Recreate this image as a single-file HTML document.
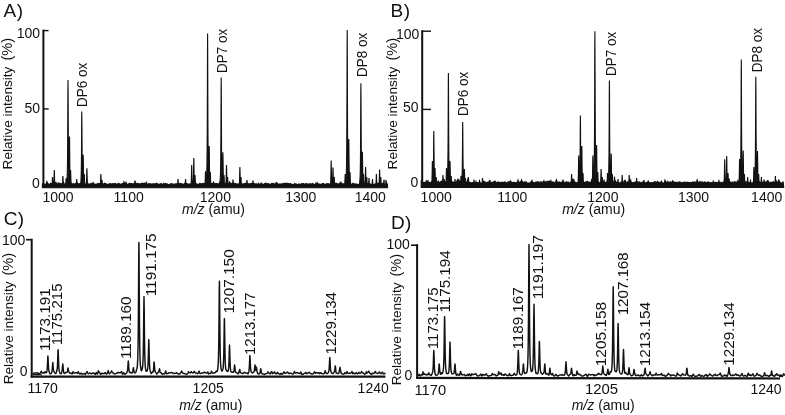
<!DOCTYPE html>
<html><head><meta charset="utf-8"><title>Mass spectra</title>
<style>
html,body{margin:0;padding:0;background:#fff;}
svg{display:block}
text{font-family:"Liberation Sans", Arial, sans-serif;fill:#111;}
</style></head><body>
<svg width="785" height="415" viewBox="0 0 785 415">
<rect width="785" height="415" fill="#fff"/>
<text transform="translate(12.2,169.4) rotate(-90)" font-size="13.6"><tspan x="0">Relative </tspan><tspan x="52.9">intensity </tspan><tspan x="108.8" font-size="14.6">(%)</tspan></text>
<text x="3.6" y="16.6" font-size="19" text-anchor="start" textLength="19.4" lengthAdjust="spacing">A)</text>
<text x="40.1" y="37.9" font-size="14.0" text-anchor="end">100</text>
<text x="40.1" y="112.5" font-size="14.0" text-anchor="end">50</text>
<text x="39.8" y="187.8" font-size="14.0" text-anchor="end">0</text>
<line x1="43.4" y1="29.6" x2="43.4" y2="187.8" stroke="#111" stroke-width="2"/>
<line x1="43.4" y1="30.6" x2="48.5" y2="30.6" stroke="#111" stroke-width="1.4"/>
<line x1="43.4" y1="108.9" x2="48.7" y2="108.9" stroke="#111" stroke-width="1.4"/>
<text x="42.5" y="201.6" font-size="14.0" text-anchor="start">1000</text>
<text x="113.6" y="201.6" font-size="14.0" text-anchor="start">1100</text>
<text x="199.8" y="201.6" font-size="14.0" text-anchor="start">1200</text>
<text x="285.2" y="201.6" font-size="14.0" text-anchor="start">1300</text>
<text x="354.7" y="201.6" font-size="14.0" text-anchor="start">1400</text>
<text x="182.0" y="214" font-size="14.0" text-anchor="start"><tspan font-style="italic">m/z</tspan> (amu)</text>
<text transform="translate(87.2,107) rotate(-90)" font-size="13.84" textLength="44.27" lengthAdjust="spacingAndGlyphs">DP6 ox</text>
<text transform="translate(227.1,73) rotate(-90)" font-size="13.84" textLength="44.27" lengthAdjust="spacingAndGlyphs">DP7 ox</text>
<text transform="translate(366.5,77) rotate(-90)" font-size="13.84" textLength="44.27" lengthAdjust="spacingAndGlyphs">DP8 ox</text>
<polygon points="42.4,187.8 42.4,183.6 42.6,183.4 43.0,183.6 43.2,183.8 43.4,183.9 43.7,184.1 44.0,184.4 44.4,184.1 44.6,183.9 44.8,183.8 45.0,184.0 45.2,184.2 45.4,184.4 46.0,184.6 46.3,184.1 46.4,183.7 46.5,183.3 46.6,182.8 46.7,182.4 46.8,181.9 46.9,181.5 47.0,181.7 47.1,182.0 47.2,182.3 47.3,182.5 47.4,182.8 47.5,183.0 47.6,183.3 47.9,183.5 48.2,183.7 48.4,183.9 48.6,184.2 48.8,184.4 49.0,184.7 49.6,184.6 49.8,184.4 49.9,184.2 50.0,184.1 50.1,183.9 50.2,183.7 50.3,183.5 50.4,183.3 50.6,183.5 50.8,183.7 51.0,183.9 51.6,184.0 52.2,182.8 52.3,180.7 52.4,178.3 52.5,177.1 52.6,178.3 52.7,180.7 52.8,182.8 52.9,184.0 53.4,183.8 53.6,183.6 53.8,183.3 53.9,182.0 54.0,179.6 54.1,176.1 54.2,172.1 54.3,170.1 54.4,172.1 54.5,176.1 54.6,179.6 54.7,182.0 54.8,183.6 54.9,183.8 55.1,184.0 55.3,184.2 55.4,184.0 55.5,183.8 55.6,183.5 55.7,183.3 55.8,183.1 55.9,182.8 56.0,182.6 56.1,182.8 56.2,183.0 56.3,183.2 56.4,183.4 56.5,183.7 56.6,183.9 56.7,184.1 57.4,184.1 57.5,184.0 57.6,183.8 57.7,183.6 57.8,183.5 57.9,183.3 58.0,183.1 58.1,183.0 58.4,183.1 58.7,183.3 59.4,183.2 59.6,183.4 59.7,183.6 59.8,183.8 59.9,184.0 60.0,184.2 60.1,184.4 60.2,184.6 60.3,184.4 60.4,184.3 60.5,184.1 60.6,184.0 60.7,183.8 60.8,183.7 60.9,183.5 61.1,183.8 61.3,184.1 61.5,184.4 61.8,184.2 61.9,184.0 62.0,183.8 62.1,183.6 62.2,183.4 62.3,183.3 62.4,183.4 62.5,183.6 62.6,182.4 62.7,180.1 62.8,177.4 62.9,176.1 63.0,177.4 63.1,180.1 63.2,182.4 63.3,183.8 63.4,183.5 63.5,183.3 63.6,183.0 63.7,182.8 63.8,183.0 63.9,183.3 64.0,183.5 64.1,183.7 64.2,184.0 64.3,184.2 64.4,184.4 64.7,184.3 65.0,184.1 65.3,183.9 65.6,183.7 65.8,183.3 65.9,181.4 66.0,179.3 66.1,178.2 66.2,179.3 66.3,181.4 66.4,183.3 66.5,183.7 66.7,183.0 66.8,182.2 66.9,181.2 67.0,180.0 67.1,178.3 67.2,176.0 67.3,172.9 67.4,168.5 67.5,162.1 67.6,152.3 67.7,137.6 67.8,116.4 67.9,92.2 68.0,80.0 68.1,92.2 68.2,116.4 68.3,137.6 68.4,152.3 68.5,162.1 68.6,168.5 68.7,172.9 68.8,176.0 68.9,178.3 69.0,175.5 69.1,170.9 69.2,163.9 69.3,153.8 69.4,142.2 69.5,136.4 69.6,142.2 69.7,153.8 69.8,163.9 69.9,170.9 70.0,175.5 70.1,178.6 70.2,180.7 70.3,179.5 70.4,176.0 70.5,172.0 70.6,170.0 70.7,172.0 70.8,176.0 70.9,179.5 71.0,181.9 71.1,183.4 71.4,183.2 71.5,183.4 71.6,183.5 71.7,183.7 71.8,183.8 71.9,184.0 72.0,184.2 72.1,184.3 72.7,184.2 73.0,183.9 73.2,183.7 73.4,183.4 73.7,183.6 73.9,183.9 74.1,184.2 74.7,184.2 75.0,184.0 75.2,183.8 75.4,183.5 75.6,183.3 75.8,183.4 76.0,183.6 76.2,183.8 76.5,182.0 76.6,180.0 76.7,179.0 76.8,180.0 76.9,182.0 77.0,183.7 77.1,184.3 77.2,184.1 77.3,184.0 77.4,183.8 77.5,183.6 77.6,183.5 77.7,183.3 77.9,183.6 78.1,183.9 78.3,184.2 78.7,184.0 78.9,183.8 79.1,183.6 79.3,183.8 79.5,184.1 79.7,184.3 80.0,184.1 80.2,183.8 80.4,183.5 80.7,183.2 80.8,182.2 80.9,181.1 81.0,179.5 81.1,177.3 81.2,174.1 81.3,169.6 81.4,162.7 81.5,152.2 81.6,137.2 81.7,120.0 81.8,111.4 81.9,120.0 82.0,137.2 82.1,152.2 82.2,162.7 82.3,169.6 82.4,174.1 82.5,177.3 82.6,179.5 82.7,179.9 82.8,176.9 82.9,172.4 83.0,165.9 83.1,158.5 83.2,154.8 83.3,158.5 83.4,165.9 83.5,172.4 83.6,176.9 83.7,179.9 83.8,181.9 83.9,183.2 84.0,181.4 84.1,178.7 84.2,175.6 84.3,174.0 84.4,175.6 84.5,178.7 84.6,181.4 84.7,183.3 84.8,184.5 85.4,184.6 85.6,184.4 85.8,184.2 86.0,184.0 86.4,183.1 86.5,181.4 86.6,178.7 86.7,174.8 86.8,170.4 86.9,168.2 87.0,170.4 87.1,174.8 87.2,178.7 87.3,181.4 87.4,183.1 87.5,183.3 87.6,183.5 87.7,183.7 87.8,183.9 87.9,184.1 88.0,184.3 88.1,184.5 88.2,184.7 88.4,184.4 88.6,184.1 88.8,183.8 89.4,184.0 89.7,184.2 90.0,184.4 90.3,184.5 90.4,184.3 90.5,184.2 90.6,184.0 90.7,183.9 90.8,183.7 90.9,183.5 91.0,183.4 91.3,183.5 91.6,183.7 92.2,183.8 92.6,183.5 92.7,183.3 92.8,183.1 92.9,183.0 93.0,182.8 93.1,182.6 93.3,182.9 93.5,183.2 93.7,183.5 93.9,183.8 94.1,184.1 94.3,184.4 94.5,184.7 94.7,184.5 94.9,184.3 95.1,184.1 95.7,184.2 96.1,184.3 96.4,184.5 96.8,184.3 97.0,184.0 97.2,183.7 97.9,183.6 98.6,183.5 98.9,183.7 99.1,183.9 99.3,184.1 99.7,183.8 99.9,183.6 100.1,183.3 100.3,183.6 100.5,183.3 100.6,181.4 100.7,178.7 100.8,175.6 100.9,174.0 101.0,175.6 101.1,178.7 101.2,181.4 101.3,183.3 101.4,183.5 101.8,182.6 101.9,180.9 102.0,180.0 102.1,180.9 102.2,182.6 102.3,183.8 102.9,183.8 103.1,184.0 103.3,184.3 103.5,184.5 103.8,184.2 103.9,184.0 104.0,183.8 104.1,183.6 104.2,183.4 104.3,183.2 104.6,183.4 104.9,183.6 105.6,183.6 106.0,183.8 106.3,184.0 106.6,184.2 106.8,184.3 107.0,184.5 107.7,184.6 108.0,184.5 108.2,184.3 108.4,184.1 108.7,183.9 109.1,183.7 109.7,183.7 110.4,183.7 111.1,183.7 111.5,183.9 111.7,184.1 111.9,184.3 112.3,184.1 112.5,183.9 112.7,183.7 113.1,183.5 113.7,183.5 114.1,183.7 114.4,183.9 114.7,184.0 115.0,183.8 115.2,183.6 115.4,183.4 115.8,183.7 116.0,183.9 116.2,184.1 116.9,184.2 117.3,184.1 117.7,183.9 117.9,183.7 118.1,183.6 118.3,183.4 118.9,183.3 119.2,183.6 119.3,183.8 119.4,183.9 119.5,184.1 119.6,184.3 119.7,184.4 120.4,184.3 121.0,184.1 121.7,184.0 122.0,183.8 122.3,183.6 122.9,183.7 123.2,184.0 123.3,183.6 123.4,183.3 123.5,183.0 123.6,182.7 123.7,182.4 123.8,182.1 123.9,181.8 124.0,182.1 124.1,182.4 124.2,182.7 124.3,183.0 124.4,183.3 124.5,183.6 124.6,183.8 124.8,183.7 125.0,183.5 125.2,183.3 125.4,183.1 125.6,182.8 125.8,182.5 126.0,182.2 126.1,182.5 126.2,182.8 126.3,183.1 126.4,183.4 126.5,183.7 126.6,184.0 126.7,184.3 127.1,184.5 127.7,184.4 127.9,184.2 128.1,184.0 128.5,183.9 128.9,183.7 129.2,183.5 129.5,183.3 129.6,183.4 129.7,183.6 129.8,183.8 129.9,183.9 130.0,184.1 130.1,184.2 130.2,184.4 130.4,184.1 130.6,183.8 130.8,183.5 131.5,183.6 131.8,183.8 132.0,184.0 132.2,184.2 132.6,184.0 132.8,183.8 133.0,183.7 133.7,183.8 134.1,184.0 134.5,183.7 134.6,183.3 134.7,182.9 134.8,181.3 134.9,180.5 135.0,181.3 135.2,181.6 135.3,182.0 135.4,182.3 135.5,182.6 135.6,183.0 135.7,183.3 135.8,183.6 136.1,183.8 136.4,184.0 136.8,183.7 137.0,183.5 137.2,183.3 137.5,183.6 137.8,183.8 138.4,183.6 139.0,183.8 139.3,184.0 139.6,184.2 139.9,184.3 140.2,184.1 140.4,183.9 140.6,183.6 141.3,183.6 141.9,183.4 142.6,183.3 143.3,183.4 144.0,183.4 144.7,183.2 145.1,183.4 145.3,183.6 145.5,183.8 145.8,183.4 145.9,183.2 146.0,182.9 146.1,182.7 146.2,182.4 146.3,182.2 146.4,182.5 146.5,182.9 146.6,183.2 146.7,183.6 146.8,183.9 146.9,184.3 147.0,184.6 147.7,184.4 147.9,184.2 148.1,183.9 148.3,183.6 148.7,183.9 148.9,184.2 149.1,184.5 149.3,184.2 149.5,184.0 149.7,183.7 150.3,183.7 150.9,183.8 151.3,184.0 151.5,184.2 151.7,184.4 151.9,184.6 152.1,184.4 152.3,184.2 152.5,184.0 152.8,183.8 153.2,183.7 153.8,183.8 154.5,183.9 155.2,184.1 155.7,183.8 155.9,183.6 156.1,183.3 156.8,183.4 157.1,183.6 157.4,183.8 157.7,184.1 158.0,184.3 158.7,184.1 159.2,184.3 159.4,184.5 159.6,184.7 159.8,184.4 160.0,184.2 160.2,184.0 160.4,183.9 160.7,183.7 161.0,183.5 161.3,183.7 161.6,183.9 161.8,184.1 162.0,184.2 162.2,184.4 162.4,184.6 162.7,184.4 163.0,184.2 163.2,184.0 163.4,183.8 163.6,183.5 163.8,183.3 164.0,183.5 164.2,183.7 164.4,183.9 165.1,184.0 165.4,183.8 165.6,183.6 165.8,183.4 166.2,183.7 166.4,184.0 166.6,184.2 166.9,184.0 167.2,183.8 167.6,184.1 167.8,184.3 168.0,184.5 168.7,184.7 169.1,184.5 169.5,184.3 170.2,184.2 170.5,184.0 170.8,183.8 171.5,183.6 171.9,183.8 172.3,184.0 172.6,184.2 172.9,184.4 173.2,184.2 173.5,184.1 174.2,184.1 174.6,184.2 174.9,184.4 175.3,184.2 175.5,184.0 175.7,183.8 176.3,183.9 177.0,183.8 177.4,184.0 177.6,184.2 177.7,183.7 177.8,182.0 177.9,180.1 178.0,179.1 178.1,180.1 178.2,182.0 178.3,183.7 178.5,183.5 178.7,183.7 178.9,183.9 179.1,184.1 179.4,184.0 179.6,183.7 179.8,183.4 180.1,183.3 180.8,183.6 180.9,183.8 181.0,183.9 181.1,184.1 181.2,184.3 181.3,184.5 181.5,184.2 181.7,184.0 181.9,183.7 182.3,184.0 182.5,184.3 182.7,184.6 183.0,184.3 183.3,184.1 183.8,184.3 184.1,184.5 184.2,184.3 184.3,184.1 184.4,184.0 184.5,183.8 184.6,183.6 184.7,183.4 184.8,183.2 185.1,183.4 185.4,182.0 185.5,180.0 185.6,179.0 185.7,180.0 185.8,182.0 185.9,183.4 186.2,183.2 186.4,183.4 186.6,183.6 186.8,183.8 187.5,183.9 188.1,184.1 188.5,184.3 188.8,184.5 189.3,184.3 189.5,184.1 189.7,183.9 189.9,184.1 190.1,184.2 190.3,184.4 191.0,184.4 191.1,183.7 191.2,182.4 191.3,180.3 191.4,177.2 191.5,172.7 191.6,167.6 191.7,165.0 191.8,167.6 191.9,172.7 192.0,177.2 192.1,180.3 192.2,182.4 192.3,182.7 192.5,182.5 192.6,182.7 192.7,182.9 192.8,183.1 192.9,183.3 193.0,183.6 193.2,182.5 193.3,180.7 193.4,178.0 193.5,173.9 193.6,168.1 193.7,161.4 193.8,158.0 193.9,161.4 194.0,168.1 194.1,173.9 194.2,178.0 194.3,180.7 194.4,182.5 194.5,183.7 194.7,181.8 194.8,179.3 194.9,176.4 195.0,175.0 195.1,176.4 195.2,179.3 195.3,181.8 195.4,182.4 195.5,182.6 195.6,182.8 195.7,182.9 195.8,183.1 195.9,183.3 196.0,183.4 196.2,183.6 196.4,183.8 196.6,183.9 197.3,184.1 197.7,184.2 198.0,184.4 198.5,184.6 199.0,184.3 199.1,184.2 199.2,184.0 199.3,183.8 199.4,183.7 199.5,183.5 200.2,183.4 200.4,183.6 200.6,183.8 200.8,184.0 201.5,184.0 201.8,183.8 202.1,183.6 202.4,183.5 203.1,183.4 203.7,183.5 203.9,183.7 204.1,183.9 204.3,184.0 204.7,183.8 204.9,183.6 205.1,182.4 205.2,180.2 205.3,176.9 205.4,173.3 205.5,171.4 205.6,173.3 205.7,176.9 205.8,180.2 205.9,182.4 206.0,183.2 206.1,182.6 206.2,181.9 206.3,181.0 206.4,179.8 206.5,178.4 206.6,176.6 206.7,174.2 206.8,171.0 206.9,166.5 207.0,160.2 207.1,151.0 207.2,137.1 207.3,116.0 207.4,85.7 207.5,51.0 207.6,33.6 207.7,51.0 207.8,85.7 207.9,116.0 208.0,137.1 208.1,151.0 208.2,160.2 208.3,166.5 208.4,171.0 208.5,174.2 208.6,176.6 208.7,177.8 208.8,174.1 208.9,168.3 209.0,160.1 209.1,150.7 209.2,146.0 209.3,150.7 209.4,160.1 209.5,168.3 209.6,174.1 209.7,177.8 209.8,180.3 209.9,182.0 210.0,180.4 210.1,177.3 210.2,173.8 210.3,172.0 210.4,173.8 210.5,177.3 210.6,180.4 210.7,182.6 210.8,183.7 211.4,183.9 211.6,183.7 211.8,183.5 212.0,183.3 212.5,183.5 212.8,183.6 212.9,183.4 213.0,183.1 213.1,182.9 213.2,182.6 213.3,182.4 213.4,182.1 213.5,181.9 213.6,182.1 213.7,182.4 213.8,182.6 213.9,182.9 214.0,183.1 214.1,183.3 214.2,183.6 214.8,183.7 215.5,183.6 216.0,183.4 216.6,183.6 216.8,183.8 217.0,183.9 217.7,183.8 218.3,183.8 218.6,184.0 218.8,184.2 219.0,184.5 219.2,184.1 219.3,183.7 219.4,183.3 219.5,182.8 219.6,182.4 219.7,182.0 219.8,181.5 219.9,181.9 220.0,182.1 220.1,181.1 220.2,179.8 220.3,178.1 220.4,175.8 220.5,172.6 220.6,168.1 220.7,161.5 220.8,151.5 220.9,136.4 221.0,114.8 221.1,90.0 221.2,77.5 221.3,90.0 221.4,114.8 221.5,136.4 221.6,151.5 221.7,161.5 221.8,168.1 221.9,172.6 222.0,175.8 222.1,178.1 222.2,179.8 222.3,181.1 222.4,179.3 222.5,176.1 222.6,171.3 222.7,164.3 222.8,156.3 222.9,152.3 223.0,156.3 223.1,164.3 223.2,171.3 223.3,176.1 223.4,179.3 223.5,181.5 223.6,182.9 223.7,181.8 223.8,179.3 223.9,176.4 224.0,175.0 224.1,176.4 224.2,179.3 224.3,181.8 224.4,183.6 224.5,184.0 224.8,183.8 225.3,183.7 225.6,183.9 225.7,184.1 225.8,184.2 225.9,183.7 226.0,182.4 226.1,180.3 226.2,177.2 226.3,172.7 226.4,167.6 226.5,165.0 226.6,167.6 226.7,172.7 226.8,177.2 226.9,180.3 227.0,182.4 227.1,183.7 227.2,184.0 227.3,182.8 227.4,180.6 227.5,178.2 227.6,177.0 227.7,178.2 227.8,180.6 227.9,182.8 228.0,183.4 228.4,183.7 228.5,183.9 228.6,184.1 228.7,184.3 228.8,184.4 228.9,184.6 229.0,184.1 229.1,183.7 229.2,183.2 229.3,182.7 229.4,182.2 229.5,181.8 229.6,181.3 229.7,181.7 229.8,182.1 229.9,182.5 230.0,182.9 230.1,183.3 230.2,183.7 230.3,184.1 230.5,183.8 230.7,183.6 230.9,183.4 231.3,183.5 231.5,183.7 231.7,183.9 232.1,183.7 232.5,183.6 232.8,182.3 232.9,180.4 233.0,179.5 233.1,180.4 233.2,182.3 233.3,183.4 233.5,183.6 233.7,183.7 234.3,183.8 234.7,183.6 234.9,183.5 235.1,183.3 235.4,183.6 235.5,183.8 235.6,184.0 235.7,184.1 235.8,184.3 235.9,184.5 236.1,184.3 236.3,184.0 236.5,183.8 237.0,184.0 237.2,184.2 237.8,184.1 238.4,184.0 238.8,183.8 239.0,183.6 239.2,183.5 239.4,182.8 239.5,181.0 239.6,178.1 239.7,174.0 239.8,169.4 239.9,167.0 240.0,169.4 240.1,174.0 240.2,178.1 240.3,181.0 240.4,182.8 240.5,183.8 240.7,182.8 240.8,180.6 240.9,178.2 241.0,177.0 241.1,178.2 241.2,180.6 241.3,182.8 241.4,183.7 241.7,183.9 241.9,184.1 242.1,184.2 242.6,184.0 242.9,183.9 243.6,183.8 243.8,183.9 244.0,184.1 244.2,184.3 244.5,184.1 244.6,183.9 244.7,183.7 244.8,183.6 244.9,183.4 245.0,183.2 245.7,183.2 245.9,183.5 246.1,183.8 246.3,184.1 246.8,182.6 246.9,180.9 247.0,180.0 247.1,180.9 247.2,182.6 247.3,183.7 248.0,183.7 248.7,183.7 249.3,183.8 249.8,183.9 250.4,184.1 250.8,183.9 251.0,183.6 251.2,183.3 251.8,183.4 252.5,183.5 252.8,183.0 252.9,181.3 253.0,180.5 253.1,181.3 253.2,183.0 253.3,184.0 253.7,183.8 253.9,183.7 254.1,183.5 254.6,183.7 255.0,183.9 255.3,184.1 255.9,183.9 256.1,183.7 256.6,183.9 256.9,184.1 257.2,184.3 257.5,184.5 257.8,184.2 257.9,184.0 258.0,183.9 258.1,183.7 258.2,183.5 258.3,183.3 258.5,183.5 258.7,183.7 258.9,183.9 259.2,184.1 259.6,184.2 260.0,184.4 260.4,184.6 260.5,184.4 260.6,184.1 260.7,183.9 260.8,183.7 260.9,183.5 261.0,183.3 261.1,183.0 261.3,183.2 261.5,183.4 261.7,183.5 261.9,183.7 262.1,183.9 262.3,184.1 262.5,184.3 263.1,184.2 263.8,184.2 264.2,183.9 264.5,183.7 264.8,183.5 265.2,183.4 265.8,183.3 266.5,183.4 266.8,183.6 267.0,183.8 267.2,184.0 267.4,184.2 267.6,184.0 267.8,183.7 268.0,183.4 268.3,183.6 268.5,183.9 268.7,184.2 269.3,184.2 270.0,184.1 270.6,184.3 271.2,184.0 271.4,183.8 271.6,183.5 272.3,183.4 272.5,183.7 272.7,184.0 272.9,184.3 273.2,184.1 273.3,184.0 273.4,183.8 273.5,183.7 273.6,183.5 273.7,183.4 273.8,183.6 273.9,183.7 274.0,183.9 274.1,184.1 274.2,184.3 274.3,184.5 274.4,184.7 274.6,184.4 274.8,184.2 275.0,184.0 275.2,183.8 275.4,183.6 275.6,183.4 275.8,183.3 276.0,183.0 276.2,182.7 276.4,182.4 276.7,182.6 276.9,182.9 277.1,183.2 277.3,183.4 277.8,183.6 278.0,183.7 278.2,184.0 278.4,184.3 278.6,184.6 279.3,184.5 279.5,184.3 279.7,184.1 279.9,183.8 280.3,184.0 280.5,184.2 280.7,184.4 281.0,184.2 281.3,184.0 282.0,184.1 282.3,183.9 282.5,183.6 282.7,183.4 283.1,183.6 283.3,183.8 283.5,184.0 283.9,183.8 284.3,183.6 284.7,183.4 285.3,183.4 286.0,183.4 286.6,183.4 287.3,183.4 288.0,183.5 288.2,183.7 288.4,183.9 288.7,183.7 289.0,183.6 289.4,183.7 289.6,183.9 289.8,184.1 290.1,183.9 290.4,183.7 290.8,183.8 291.0,184.0 291.2,184.1 291.7,184.3 292.3,184.3 293.0,184.5 293.6,184.6 294.1,184.4 294.3,184.1 294.5,183.8 294.7,183.5 294.8,183.7 294.9,183.8 295.0,184.0 295.1,184.1 295.2,184.3 295.3,184.5 295.4,184.6 295.6,184.4 295.8,184.2 296.0,183.9 296.4,184.2 296.6,184.4 296.8,184.6 297.3,184.5 298.0,184.4 298.4,184.2 298.6,184.0 298.8,183.9 299.2,184.1 299.4,184.2 299.6,184.4 300.3,184.4 300.9,184.3 301.2,184.0 301.4,183.8 301.6,183.6 302.0,183.8 302.2,184.1 302.4,184.3 302.6,184.0 302.8,183.7 303.0,183.5 303.5,183.6 303.7,183.8 304.3,183.9 304.7,184.2 304.9,184.3 305.1,184.5 305.4,184.3 305.5,184.1 305.6,184.0 305.7,183.8 305.8,183.7 305.9,183.5 306.2,183.7 306.5,183.8 306.8,184.0 307.1,184.2 307.7,184.0 307.9,183.8 308.2,184.0 308.4,184.3 308.6,184.5 309.1,184.4 309.3,184.2 309.5,184.1 309.8,183.8 310.1,183.6 310.3,183.9 310.5,184.1 310.7,184.3 311.3,184.3 311.6,184.1 311.8,183.9 312.0,183.6 312.2,183.4 312.6,183.6 313.0,183.8 313.2,184.0 313.4,184.1 313.6,184.3 314.3,184.5 314.8,184.6 315.2,184.3 315.3,184.2 315.4,184.0 315.5,183.8 315.6,183.6 315.7,183.4 315.8,183.6 315.9,183.8 316.0,183.9 316.1,184.1 316.2,184.2 316.3,184.4 316.4,184.6 316.5,184.3 316.6,184.0 316.7,183.7 316.8,183.4 316.9,183.1 317.0,182.9 317.1,182.6 317.2,182.8 317.3,183.0 317.4,183.2 317.5,183.4 317.6,183.6 317.7,183.8 317.8,184.0 318.4,183.8 318.8,184.0 319.1,184.2 319.8,184.1 320.2,184.3 320.5,184.5 321.1,184.4 321.5,184.3 321.8,184.0 322.1,183.8 322.4,183.6 322.7,183.5 323.3,183.5 323.7,183.7 324.0,183.9 324.5,184.1 325.0,184.3 325.3,184.4 325.9,184.2 326.1,184.1 326.3,183.9 326.5,183.8 326.7,183.6 326.9,183.5 327.0,183.6 327.1,183.8 327.2,184.0 327.3,184.2 327.4,184.3 327.5,184.5 327.6,184.7 327.8,184.4 328.0,184.1 328.2,183.8 328.8,183.8 329.1,184.0 329.3,184.2 329.5,184.4 329.7,184.7 329.8,184.5 329.9,184.3 330.0,184.2 330.1,184.0 330.2,183.8 330.3,183.7 330.4,183.5 330.6,182.9 330.7,181.3 330.8,178.9 330.9,175.1 331.0,169.8 331.1,163.7 331.2,160.6 331.3,163.7 331.4,169.8 331.5,175.1 331.6,178.9 331.7,181.3 331.8,182.9 331.9,184.0 332.2,184.2 332.5,183.0 332.6,181.2 332.7,178.4 332.8,174.4 332.9,169.9 333.0,167.6 333.1,169.9 333.2,174.4 333.3,178.4 333.4,181.2 333.5,183.0 333.6,184.2 333.9,182.8 334.0,180.6 334.1,178.2 334.2,177.0 334.3,178.2 334.4,180.6 334.5,182.8 334.6,183.6 335.0,183.4 335.6,183.4 336.0,183.6 336.3,183.4 336.6,183.2 336.9,183.6 337.0,183.8 337.1,184.0 337.2,184.2 337.3,184.4 337.4,184.6 337.6,184.3 337.8,184.0 338.0,183.8 338.6,184.0 339.1,183.8 339.3,183.5 339.5,183.3 339.6,183.5 339.7,183.6 339.8,183.8 339.9,184.0 340.0,184.1 340.1,184.3 340.2,184.5 340.3,184.1 340.4,183.8 340.5,183.4 340.6,183.1 340.7,182.8 340.8,182.4 340.9,182.1 341.0,182.3 341.1,182.6 341.2,182.9 341.3,183.2 341.4,183.5 341.5,183.8 341.6,184.1 342.0,183.9 342.4,183.7 342.9,183.5 343.2,183.7 343.4,183.9 343.6,184.1 343.8,184.3 344.1,184.5 344.4,184.7 344.6,184.4 344.8,183.3 344.9,181.4 345.0,178.7 345.1,175.6 345.2,174.0 345.3,175.6 345.4,178.7 345.5,181.4 345.6,183.1 345.7,182.5 345.8,181.7 345.9,180.8 346.0,179.7 346.1,178.2 346.2,176.3 346.3,173.9 346.4,170.6 346.5,166.0 346.6,159.6 346.7,150.1 346.8,135.9 346.9,114.3 347.0,83.3 347.1,47.9 347.2,30.0 347.3,47.9 347.4,83.3 347.5,114.3 347.6,135.9 347.7,150.1 347.8,159.6 347.9,166.0 348.0,170.6 348.1,173.9 348.2,176.3 348.3,176.1 348.4,171.8 348.5,165.1 348.6,155.5 348.7,144.5 348.8,139.0 348.9,144.5 349.0,155.5 349.1,165.1 349.2,171.8 349.3,176.1 349.4,179.1 349.5,181.1 349.6,182.5 349.7,180.4 349.8,177.3 349.9,173.8 350.0,172.0 350.1,173.8 350.2,177.3 350.3,180.4 350.4,182.6 350.5,183.7 350.6,183.5 350.7,183.3 350.9,183.6 351.1,183.8 351.3,184.1 351.5,184.2 351.9,184.4 352.3,184.1 352.4,183.9 352.5,183.8 352.6,183.6 352.7,183.4 352.8,183.2 353.1,183.4 353.4,183.6 353.6,183.7 353.8,184.0 354.0,184.2 354.2,184.4 354.4,184.2 354.6,184.0 354.8,183.9 355.2,184.1 355.4,184.3 355.6,184.6 355.8,184.4 356.0,184.2 356.2,183.9 356.8,184.1 357.5,184.2 358.1,184.4 358.4,184.5 359.0,184.5 359.3,184.3 359.5,183.8 359.6,183.2 359.7,182.4 359.8,181.4 359.9,180.2 360.0,178.6 360.1,176.4 360.2,173.4 360.3,169.1 360.4,162.8 360.5,153.4 360.6,139.1 360.7,118.5 360.8,95.0 360.9,83.2 361.0,95.0 361.1,118.5 361.2,139.1 361.3,153.4 361.4,162.8 361.5,169.1 361.6,173.4 361.7,176.4 361.8,178.6 361.9,179.2 362.0,175.9 362.1,171.0 362.2,163.9 362.3,155.8 362.4,151.7 362.5,155.8 362.6,163.9 362.7,171.0 362.8,175.9 362.9,179.2 363.0,181.3 363.1,182.8 363.2,181.4 363.3,178.7 363.4,175.6 363.5,174.0 363.6,175.6 363.7,178.7 363.8,181.4 363.9,183.3 364.0,184.3 364.2,184.1 364.4,183.8 364.6,183.6 365.1,182.8 365.2,181.0 365.3,178.1 365.4,174.0 365.5,169.4 365.6,167.0 365.7,169.4 365.8,174.0 365.9,178.1 366.0,181.0 366.1,182.8 366.2,184.1 366.5,182.8 366.6,180.6 366.7,178.2 366.8,177.0 366.9,178.2 367.0,180.6 367.1,182.8 367.2,183.8 367.4,184.1 367.9,183.9 368.1,183.7 368.7,183.2 368.8,181.3 368.9,179.1 369.0,178.0 369.1,179.1 369.2,181.3 369.3,183.2 369.4,184.4 369.6,184.7 369.8,184.5 370.0,184.3 370.2,184.1 370.8,184.1 371.3,184.3 371.7,184.4 372.2,183.7 372.3,182.0 372.4,180.0 372.5,179.0 372.6,180.0 372.7,182.0 372.8,183.7 372.9,184.2 373.4,184.4 373.7,184.6 374.3,184.5 374.7,184.3 374.9,184.1 375.1,183.9 375.8,184.0 376.0,183.3 376.1,181.4 376.2,178.7 376.3,175.6 376.4,174.0 376.5,175.6 376.6,178.7 376.7,181.4 376.8,183.3 376.9,183.6 377.5,183.5 377.8,183.3 378.5,183.4 378.8,183.5 379.0,183.7 379.1,183.4 379.2,181.8 379.3,179.3 379.4,175.7 379.5,171.6 379.6,169.5 379.7,171.6 379.8,175.7 379.9,179.3 380.0,181.8 380.1,183.3 380.3,183.5 380.5,182.8 380.6,180.6 380.7,178.2 380.8,177.0 380.9,178.2 381.0,180.6 381.1,182.8 381.2,183.6 381.4,183.4 381.7,183.7 381.8,183.9 381.9,184.1 382.0,184.3 382.1,184.4 382.2,184.6 382.3,184.4 382.4,184.3 382.5,184.1 382.6,183.9 382.7,183.7 382.8,183.5 382.9,183.3 383.2,183.5 383.5,183.7 383.8,182.3 383.9,180.4 384.0,179.5 384.1,180.4 384.2,182.3 384.3,183.9 384.4,184.3 384.7,184.4 385.0,184.6 385.2,184.4 385.4,184.3 385.6,184.1 385.8,182.6 385.9,180.9 386.0,180.0 386.1,180.9 386.2,182.6 386.6,183.0 386.7,183.1 386.8,183.3 386.9,183.5 387.0,183.7 387.1,183.9 387.5,184.1 387.5,187.8" fill="#111" stroke="#111" stroke-width="1.1" stroke-linejoin="miter"/>
<text transform="translate(397.0,169.4) rotate(-90)" font-size="13.6"><tspan x="0">Relative </tspan><tspan x="52.9">intensity </tspan><tspan x="108.8" font-size="14.6">(%)</tspan></text>
<text x="390.6" y="16.6" font-size="19" text-anchor="start" textLength="19.4" lengthAdjust="spacing">B)</text>
<text x="419.4" y="38.6" font-size="14.0" text-anchor="end">100</text>
<text x="418.6" y="111.9" font-size="14.0" text-anchor="end">50</text>
<text x="418.2" y="186.9" font-size="14.0" text-anchor="end">0</text>
<line x1="422.2" y1="30.2" x2="422.2" y2="187.4" stroke="#111" stroke-width="2"/>
<line x1="422.2" y1="31.2" x2="431" y2="31.2" stroke="#111" stroke-width="1.4"/>
<line x1="422.2" y1="109.4" x2="431" y2="109.4" stroke="#111" stroke-width="1.4"/>
<text x="420.6" y="201.5" font-size="14.0" text-anchor="start">1000</text>
<text x="497.3" y="201.5" font-size="14.0" text-anchor="start">1100</text>
<text x="587.3" y="201.5" font-size="14.0" text-anchor="start">1200</text>
<text x="678.0" y="201.5" font-size="14.0" text-anchor="start">1300</text>
<text x="751.1" y="201.5" font-size="14.0" text-anchor="start">1400</text>
<text x="562.2" y="214" font-size="14.0" text-anchor="start"><tspan font-style="italic">m/z</tspan> (amu)</text>
<text transform="translate(468.4,116) rotate(-90)" font-size="13.84" textLength="44.27" lengthAdjust="spacingAndGlyphs">DP6 ox</text>
<text transform="translate(616.2,76) rotate(-90)" font-size="13.84" textLength="44.27" lengthAdjust="spacingAndGlyphs">DP7 ox</text>
<text transform="translate(762.0,72.2) rotate(-90)" font-size="13.84" textLength="44.27" lengthAdjust="spacingAndGlyphs">DP8 ox</text>
<polygon points="421.2,187.4 421.2,180.9 421.3,180.7 421.4,180.6 421.5,180.8 421.6,181.1 421.7,181.4 421.8,181.7 421.9,182.0 422.0,182.3 422.1,182.6 422.4,182.8 422.7,182.9 423.2,182.7 423.5,182.5 424.1,182.4 424.7,182.2 425.3,182.3 425.8,182.0 425.9,181.8 426.0,181.6 426.1,181.4 426.2,181.2 426.3,180.9 426.4,181.1 426.5,181.3 426.6,181.5 426.7,181.7 426.8,181.9 426.9,182.1 427.0,182.3 427.6,182.3 427.9,180.8 428.0,180.0 428.1,180.8 428.2,182.5 428.4,182.7 429.0,182.6 429.4,182.5 429.7,182.3 430.0,182.5 430.2,182.7 430.4,182.9 430.8,182.7 431.0,182.4 431.2,182.1 431.5,182.3 431.8,182.5 431.9,181.1 432.0,178.7 432.1,175.1 432.2,169.9 432.3,164.0 432.4,161.0 432.5,164.0 432.6,169.9 432.7,175.1 432.8,178.7 432.9,181.1 433.1,179.6 433.2,177.3 433.3,173.9 433.4,168.9 433.5,161.1 433.6,150.1 433.7,137.4 433.8,131.0 433.9,137.4 434.0,150.1 434.1,161.1 434.2,168.9 434.3,173.9 434.4,177.3 434.5,179.6 434.6,181.0 434.7,178.4 434.8,174.6 434.9,170.2 435.0,168.0 435.1,170.2 435.2,174.6 435.3,178.4 435.4,181.0 435.5,182.4 435.8,182.5 436.0,180.5 436.1,178.2 436.2,177.0 436.3,178.2 436.4,180.5 436.5,182.6 436.6,182.7 437.0,182.6 437.2,182.3 437.4,182.1 437.6,181.9 437.8,181.6 438.0,181.4 438.2,181.1 438.3,181.2 438.4,181.4 438.5,181.5 438.6,181.7 438.7,181.8 438.8,182.0 438.9,182.1 439.1,182.3 439.3,182.5 439.5,182.7 439.8,182.6 440.0,182.3 440.2,182.0 440.4,181.8 441.0,181.8 441.2,181.5 441.4,181.2 441.6,181.0 441.8,181.2 441.9,181.5 442.0,181.8 442.1,182.2 442.2,182.5 442.3,182.8 442.4,183.2 442.6,182.9 442.7,181.6 442.8,179.2 442.9,176.4 443.0,175.0 443.1,176.4 443.2,179.2 443.3,181.6 443.4,182.1 444.0,181.8 444.1,180.0 444.2,179.0 444.3,180.0 444.4,181.8 444.5,182.4 444.9,182.2 445.3,182.0 445.7,181.8 446.1,181.0 446.2,178.4 446.3,174.6 446.4,170.2 446.5,168.0 446.6,170.2 446.7,174.6 446.8,178.4 446.9,181.0 447.0,182.5 447.2,181.5 447.3,180.4 447.4,179.1 447.5,177.3 447.6,174.9 447.7,171.6 447.8,166.9 447.9,160.1 448.0,149.8 448.1,134.1 448.2,111.6 448.3,85.9 448.4,73.0 448.5,85.9 448.6,111.6 448.7,134.1 448.8,149.8 448.9,160.1 449.0,166.9 449.1,171.6 449.2,174.9 449.3,177.3 449.4,179.1 449.5,180.4 449.6,178.7 449.7,175.1 449.8,169.9 449.9,164.0 450.0,161.0 450.1,164.0 450.2,169.9 450.3,175.1 450.4,178.7 450.5,181.1 450.6,182.4 450.8,182.6 450.9,182.1 451.0,179.9 451.1,177.3 451.2,176.0 451.3,177.3 451.4,179.9 451.5,182.1 451.6,182.4 451.8,182.2 452.0,182.1 452.2,181.9 452.8,181.9 453.1,182.1 453.3,182.3 453.5,182.5 453.9,182.3 454.1,182.1 454.3,182.0 454.5,182.2 454.7,182.5 454.8,181.8 454.9,180.0 455.0,179.0 455.1,180.0 455.2,181.8 455.3,182.7 455.8,182.6 456.3,182.4 456.5,182.1 456.6,181.9 456.7,181.6 456.8,181.3 456.9,181.1 457.0,180.8 457.1,180.6 457.2,180.9 457.3,181.2 457.4,181.5 457.5,181.8 457.6,182.1 457.7,182.4 457.8,181.5 457.9,179.5 458.0,178.5 458.1,179.5 458.2,181.5 458.3,182.2 458.5,181.9 458.6,181.7 458.7,181.5 458.8,181.3 458.9,181.1 459.0,180.9 459.1,180.7 459.2,180.5 459.3,180.8 459.4,181.1 459.5,181.3 459.6,181.6 459.7,181.9 459.8,182.1 459.9,182.4 460.5,182.4 460.7,182.0 460.8,179.7 460.9,177.0 461.0,175.7 461.1,177.0 461.2,179.7 461.3,182.0 461.4,182.6 461.6,182.8 461.7,182.6 461.8,181.6 461.9,180.3 462.0,178.4 462.1,175.7 462.2,171.8 462.3,165.9 462.4,157.0 462.5,144.1 462.6,129.4 462.7,122.0 462.8,129.4 462.9,144.1 463.0,157.0 463.1,165.9 463.2,171.8 463.3,175.7 463.4,178.4 463.5,180.3 463.6,181.6 463.7,182.6 463.8,182.9 464.0,181.3 464.1,178.8 464.2,175.2 464.3,171.1 464.4,169.0 464.5,171.1 464.6,175.2 464.7,178.8 464.8,181.0 464.9,181.2 465.0,181.4 465.1,181.6 465.2,181.9 465.3,181.2 465.4,179.1 465.5,178.0 465.6,179.1 465.7,181.2 465.8,182.4 466.5,182.4 467.0,182.1 467.1,181.7 467.2,181.3 467.3,181.0 467.4,180.6 467.5,180.3 467.6,179.9 467.7,180.2 467.8,180.5 467.9,180.8 468.0,181.1 468.1,181.3 468.2,180.5 468.3,178.2 468.4,177.0 468.5,178.2 468.6,180.5 468.7,182.0 469.3,182.1 469.8,182.4 470.1,182.5 470.4,182.7 471.0,182.7 471.6,182.7 472.3,182.6 473.0,182.5 473.6,182.7 473.8,182.2 473.9,180.4 474.0,179.5 474.1,180.4 474.2,182.2 474.3,183.0 475.0,182.9 475.4,182.6 475.5,182.4 475.6,182.2 475.7,182.0 475.8,181.8 475.9,181.6 476.0,181.4 476.1,181.7 476.2,181.9 476.3,182.1 476.4,182.3 476.5,182.6 476.6,182.8 476.7,183.0 477.0,182.8 477.3,182.6 478.0,182.8 478.6,182.8 478.9,182.5 479.0,182.2 479.1,181.8 479.2,181.5 479.3,181.1 479.4,180.8 479.5,180.5 479.6,180.8 479.7,181.1 479.8,181.5 479.9,181.8 480.0,182.1 480.1,182.5 480.2,182.8 480.8,183.0 481.5,183.1 481.9,182.9 482.2,182.7 482.3,181.2 482.4,179.1 482.5,178.0 482.6,179.1 482.7,181.2 482.9,181.0 483.0,180.7 483.1,181.0 483.2,181.2 483.3,181.4 483.4,181.6 483.5,181.8 483.6,182.0 483.7,182.2 484.0,182.0 484.3,181.8 484.8,181.6 485.3,182.0 485.4,182.2 485.5,182.4 485.6,182.6 485.7,182.8 485.8,183.0 486.1,182.8 486.4,182.6 486.9,182.4 487.4,182.2 487.7,182.1 488.3,182.2 488.8,182.0 488.9,181.8 489.0,181.6 489.1,181.5 489.2,181.3 489.3,181.1 489.4,181.4 489.5,181.6 489.6,181.9 489.7,182.1 489.8,182.4 489.9,180.8 490.0,180.0 490.1,180.8 490.2,182.5 490.3,182.8 490.9,182.6 491.3,182.4 492.0,182.5 492.5,182.4 492.9,182.2 493.2,182.0 493.5,181.8 494.1,181.9 494.4,181.6 494.6,181.3 494.8,181.0 495.1,181.2 495.2,181.4 495.3,181.5 495.4,181.7 495.5,181.9 495.6,182.0 495.7,182.2 495.8,182.4 495.9,182.5 496.0,182.7 496.1,182.8 496.2,183.0 496.3,183.1 496.5,182.8 496.7,182.6 496.9,182.3 497.5,182.3 498.1,182.1 498.4,181.9 498.6,182.1 498.8,182.3 499.0,182.5 499.6,182.4 500.1,182.5 500.4,182.8 500.8,182.6 501.0,182.4 501.2,182.2 501.4,182.4 501.6,182.6 501.8,182.8 502.2,182.7 502.4,182.5 502.6,182.3 503.3,182.4 504.0,182.6 504.2,182.3 504.4,182.1 504.6,181.9 505.2,182.1 505.5,182.3 505.7,182.6 505.9,182.8 506.1,183.1 506.4,182.9 506.7,182.7 507.0,182.5 507.3,182.4 507.6,182.2 507.9,182.0 508.2,181.7 508.5,181.9 508.8,182.1 509.0,182.2 509.2,182.4 509.4,182.6 509.6,182.8 509.7,182.5 509.8,182.3 509.9,182.0 510.0,181.8 510.1,181.5 510.2,181.3 510.3,181.0 510.4,181.2 510.5,181.4 510.6,181.6 510.7,181.8 510.8,182.0 510.9,182.2 511.0,182.4 511.3,182.2 511.6,182.0 511.9,182.3 512.1,182.6 512.3,182.8 512.9,182.8 513.2,182.6 513.4,182.5 513.6,182.3 513.8,182.1 514.2,182.3 514.6,182.4 515.0,182.6 515.6,182.7 516.2,182.7 516.6,182.5 516.9,182.3 517.2,182.1 517.4,181.7 517.5,181.4 517.6,181.2 517.7,180.9 517.8,180.6 517.9,180.3 518.0,180.0 518.1,180.3 518.2,180.7 518.3,181.0 518.4,181.3 518.5,181.7 518.6,182.0 518.7,182.3 518.9,182.5 519.1,182.7 519.3,182.9 519.6,182.6 519.7,182.5 519.8,182.3 519.9,182.1 520.0,181.9 520.1,181.8 520.2,182.0 520.3,182.1 520.4,182.3 520.5,182.5 520.6,182.7 520.7,182.9 520.8,183.0 520.9,182.6 521.0,182.1 521.1,181.7 521.2,181.3 521.3,180.8 521.4,180.4 521.5,179.9 521.6,180.1 521.7,180.3 521.8,180.5 521.9,180.7 522.0,180.9 522.1,181.1 522.2,181.3 522.4,181.6 522.6,181.8 522.8,182.0 523.1,182.2 523.7,182.3 523.9,182.5 524.1,182.6 524.3,182.8 524.4,182.6 524.5,182.5 524.6,182.3 524.7,182.2 524.8,182.0 524.9,181.9 525.0,181.7 525.6,181.9 526.2,182.0 526.5,182.2 526.7,182.5 526.9,182.8 527.1,183.1 527.7,183.0 528.4,183.1 529.0,183.0 529.6,183.1 530.1,182.9 530.2,182.7 530.3,182.5 530.4,182.4 530.5,182.2 530.6,182.1 531.0,182.2 531.5,181.8 531.6,181.5 531.7,181.3 531.8,181.0 531.9,180.8 532.0,180.5 532.1,180.8 532.2,181.1 532.3,181.4 532.4,181.7 532.5,182.0 532.6,182.4 532.7,182.7 533.2,182.5 533.9,182.5 534.3,182.7 534.6,182.9 535.1,182.7 535.3,182.4 535.5,182.2 536.0,182.0 536.6,182.0 537.2,181.9 537.6,181.7 538.2,181.7 538.5,182.0 538.7,182.2 538.9,182.4 539.4,182.2 539.6,182.1 540.1,182.2 540.4,182.4 540.6,182.2 540.8,182.1 541.0,181.9 541.6,181.9 542.1,182.1 542.4,182.2 543.0,182.2 543.3,181.9 543.4,181.7 543.5,181.5 543.6,181.3 543.7,181.1 543.8,180.9 543.9,180.7 544.0,181.0 544.1,181.3 544.2,181.5 544.3,181.8 544.4,182.1 544.5,182.4 544.6,182.7 545.1,182.5 545.4,182.3 545.6,182.0 545.8,181.8 546.0,181.5 546.1,181.7 546.2,181.8 546.3,182.0 546.4,182.2 546.5,182.3 546.6,182.5 546.7,182.6 546.8,182.5 546.9,182.3 547.0,182.1 547.1,181.9 547.2,181.7 547.3,181.5 547.4,181.3 547.9,181.5 548.5,181.6 549.0,181.5 549.2,181.2 549.4,181.0 549.7,181.3 549.8,181.5 549.9,181.7 550.0,181.8 550.1,182.0 550.2,182.2 550.3,182.0 550.4,181.7 550.5,181.5 550.6,181.2 550.7,181.0 550.8,180.7 550.9,180.5 551.0,180.8 551.1,181.1 551.2,181.5 551.3,181.8 551.4,182.1 551.5,182.5 551.6,182.8 552.0,182.6 552.4,182.4 552.6,182.2 552.8,182.0 553.0,181.8 553.2,182.0 553.4,182.2 553.6,182.4 554.0,182.5 554.6,182.6 555.2,182.7 555.6,182.9 555.8,182.5 555.9,180.8 556.0,180.0 556.1,180.8 556.2,181.2 556.3,180.8 556.4,180.3 556.5,179.9 556.6,180.2 556.7,180.5 556.8,180.8 556.9,181.1 557.0,181.4 557.1,181.7 557.2,182.0 557.4,182.3 557.6,182.6 557.8,182.9 558.2,182.6 558.4,182.3 558.6,182.0 559.0,181.9 559.6,182.0 559.9,182.2 560.1,182.4 560.3,182.6 560.5,182.8 560.7,183.0 560.9,182.8 561.1,182.7 561.3,182.5 561.5,182.3 561.7,182.1 561.9,182.0 562.1,181.8 562.4,182.0 562.7,182.2 562.9,180.4 563.0,179.5 563.1,180.4 563.2,182.0 563.5,181.8 563.9,182.0 564.3,182.2 564.6,182.4 564.9,182.6 565.2,182.4 565.5,182.3 565.8,182.1 566.0,181.9 566.2,181.8 566.5,182.0 566.7,182.2 566.9,182.5 567.4,182.3 567.6,182.1 568.2,182.0 568.6,182.2 568.7,182.4 568.8,182.6 568.9,182.7 569.0,182.9 569.1,183.0 569.7,182.9 570.1,182.7 570.5,182.6 570.6,182.4 570.7,182.2 570.8,182.1 570.9,181.9 571.0,181.8 571.1,181.6 571.2,181.5 571.3,181.2 571.4,178.5 571.5,175.5 571.6,174.0 571.7,175.5 571.8,178.5 571.9,181.2 572.0,182.1 572.3,182.0 572.6,181.5 572.7,179.5 572.8,178.5 572.9,179.5 573.0,181.5 573.1,182.1 573.4,181.9 573.5,181.6 573.6,181.3 573.7,181.0 573.8,180.7 573.9,180.4 574.0,180.1 574.1,180.4 574.2,180.7 574.3,181.0 574.4,181.2 574.5,181.5 574.6,181.8 574.7,182.1 574.9,182.3 575.1,182.4 575.3,182.6 575.9,182.4 576.4,182.7 576.6,182.9 576.8,183.1 577.1,183.0 577.4,182.8 578.0,182.8 578.1,181.7 578.2,179.8 578.3,176.9 578.4,172.5 578.5,166.3 578.6,159.1 578.7,155.5 578.8,159.1 578.9,166.3 579.0,172.5 579.1,176.9 579.2,179.8 579.3,181.7 579.4,182.2 579.5,181.0 579.6,179.5 579.7,177.5 579.8,174.5 579.9,170.2 580.0,163.7 580.1,153.9 580.2,139.7 580.3,123.5 580.4,115.4 580.5,123.5 580.6,139.7 580.7,153.9 580.8,163.7 580.9,170.2 581.0,174.5 581.1,177.5 581.2,179.5 581.3,177.5 581.4,173.8 581.5,168.1 581.6,160.0 581.7,150.7 581.8,146.0 581.9,150.7 582.0,160.0 582.1,168.1 582.2,173.8 582.3,177.5 582.4,180.0 582.5,181.7 582.6,182.0 582.7,180.7 582.8,177.9 582.9,174.6 583.0,173.0 583.1,174.6 583.2,177.9 583.3,180.7 583.4,181.9 584.0,182.1 584.2,182.4 584.4,182.6 584.8,182.5 585.0,182.3 585.2,182.0 585.9,182.1 586.5,182.0 586.8,181.7 587.0,181.5 587.2,181.3 587.5,181.5 587.7,181.7 587.9,182.0 588.5,182.0 588.9,182.2 589.1,182.5 589.3,182.7 589.8,182.5 590.0,182.3 590.3,182.5 590.5,182.7 590.7,183.0 590.9,182.7 591.0,182.3 591.1,181.9 591.2,181.4 591.3,181.0 591.4,180.6 591.5,180.2 591.6,180.5 591.7,180.8 591.8,181.1 591.9,181.4 592.0,181.7 592.1,182.0 592.2,182.3 592.3,181.7 592.4,179.8 592.5,176.9 592.6,172.5 592.7,166.3 592.8,159.1 592.9,155.5 593.0,159.1 593.1,166.3 593.2,172.5 593.3,176.9 593.4,179.8 593.5,181.4 593.6,180.5 593.7,179.3 593.8,177.9 593.9,176.0 594.0,173.6 594.1,170.4 594.2,165.9 594.3,159.5 594.4,150.1 594.5,136.0 594.6,114.7 594.7,84.0 594.8,48.9 594.9,31.2 595.0,48.9 595.1,84.0 595.2,114.7 595.3,136.0 595.4,150.1 595.5,159.5 595.6,165.9 595.7,170.4 595.8,173.6 595.9,176.0 596.0,177.9 596.1,177.3 596.2,173.5 596.3,167.7 596.4,159.3 596.5,149.8 596.6,145.0 596.7,149.8 596.8,159.3 596.9,167.7 597.0,173.5 597.1,177.3 597.2,179.8 597.3,181.6 597.4,182.3 597.5,180.2 597.6,177.2 597.7,173.7 597.8,172.0 597.9,173.7 598.0,177.2 598.1,180.2 598.2,182.3 598.9,182.4 599.3,182.6 599.6,182.7 599.9,182.9 600.4,183.1 600.7,181.3 600.8,178.8 600.9,175.2 601.0,171.1 601.1,169.0 601.2,171.1 601.3,175.2 601.4,178.8 601.5,181.3 601.6,183.0 602.0,182.6 602.1,180.5 602.2,178.2 602.3,177.0 602.4,178.2 602.5,180.5 602.6,181.5 602.7,181.2 602.8,181.4 602.9,181.6 603.0,181.8 603.1,182.1 603.2,182.3 603.3,182.5 603.4,182.7 603.5,182.4 603.6,182.0 603.7,181.7 603.8,181.4 603.9,181.0 604.0,180.7 604.1,180.4 604.2,180.7 604.3,181.0 604.4,181.4 604.5,181.7 604.6,182.1 604.7,182.4 604.8,182.8 605.3,182.6 605.8,182.8 606.1,183.0 606.3,182.8 606.4,182.5 606.5,182.2 606.6,182.0 606.7,181.7 606.8,181.4 606.9,181.1 607.0,181.3 607.1,181.5 607.2,180.7 607.3,177.9 607.4,174.6 607.5,173.0 607.6,174.6 607.7,177.9 607.8,180.7 607.9,182.4 608.2,181.9 608.3,180.9 608.4,179.6 608.5,178.0 608.6,175.7 608.7,172.6 608.8,168.3 608.9,161.9 609.0,152.2 609.1,137.6 609.2,116.5 609.3,92.5 609.4,80.4 609.5,92.5 609.6,116.5 609.7,137.6 609.8,152.2 609.9,161.9 610.0,168.3 610.1,172.6 610.2,175.7 610.3,178.0 610.4,179.6 610.5,180.9 610.6,181.4 610.7,179.3 610.8,176.3 610.9,171.7 611.0,165.0 611.1,157.4 611.2,153.6 611.3,157.4 611.4,165.0 611.5,171.7 611.6,176.3 611.7,179.3 611.8,181.4 611.9,182.7 612.0,181.2 612.1,178.5 612.2,175.5 612.3,174.0 612.4,175.5 612.5,178.5 612.6,181.2 612.7,182.8 612.8,182.6 612.9,182.4 613.0,182.2 613.1,182.0 613.2,181.8 613.5,182.0 613.8,182.1 614.3,180.2 614.4,177.7 614.5,176.5 614.6,177.7 614.7,180.2 614.8,181.6 614.9,181.4 615.0,181.2 615.1,181.1 615.2,180.9 615.3,180.7 615.4,180.9 615.5,181.1 615.6,181.2 615.7,181.4 615.8,181.6 615.9,181.8 616.0,181.9 616.2,182.2 616.4,182.4 616.6,182.6 617.1,182.5 617.4,182.3 617.8,181.8 617.9,180.0 618.0,179.0 618.1,180.0 618.2,181.8 618.3,182.3 618.5,182.5 618.7,182.7 618.9,182.9 619.3,183.0 619.9,182.8 620.2,182.6 620.5,182.4 620.8,182.2 621.1,182.0 621.4,181.9 621.8,182.1 621.9,181.6 622.0,179.2 622.1,176.4 622.2,175.0 622.3,176.4 622.4,179.2 622.5,181.6 622.6,182.4 622.7,182.2 622.8,182.1 622.9,181.9 623.0,181.8 623.1,182.0 623.2,182.2 623.3,182.4 623.4,182.5 623.5,182.7 623.6,182.9 623.7,183.1 623.8,182.8 623.9,182.5 624.0,182.1 624.1,181.8 624.2,181.5 624.3,181.2 624.4,180.8 624.6,180.6 624.8,180.4 625.0,180.2 625.2,180.5 625.3,180.9 625.4,181.3 625.5,181.7 625.6,182.1 625.7,182.5 625.8,182.9 626.4,183.1 626.6,182.9 626.7,182.7 626.8,182.5 626.9,182.4 627.0,182.2 627.1,182.0 627.2,181.8 627.3,182.0 627.4,182.1 627.5,182.3 627.6,182.5 627.7,182.6 627.8,182.8 627.9,183.0 628.1,182.7 628.3,182.4 628.5,182.1 628.8,182.2 628.9,181.6 629.0,179.2 629.1,176.4 629.2,175.0 629.3,176.4 629.4,179.2 629.5,181.6 629.6,182.6 629.8,182.3 630.0,182.1 630.1,181.8 630.2,181.5 630.3,181.3 630.4,181.0 630.5,180.7 630.6,180.4 630.7,180.1 630.8,180.6 630.9,181.0 631.0,181.4 631.1,181.9 631.2,182.3 631.3,182.7 631.4,183.2 631.6,182.9 631.8,182.7 632.0,182.5 632.5,182.7 632.8,182.9 633.1,182.7 633.4,182.6 633.9,182.4 634.5,182.2 635.1,182.1 635.7,182.0 636.4,181.2 636.5,179.1 636.6,178.0 636.7,179.1 636.8,181.2 636.9,181.5 637.2,181.6 637.4,181.9 637.6,182.1 638.2,182.0 638.9,182.0 639.5,181.9 640.1,182.2 640.3,182.4 640.5,182.7 640.8,182.9 641.1,183.1 641.5,182.9 641.7,182.7 641.9,182.5 642.4,182.3 642.7,182.1 642.9,181.9 643.1,181.6 643.3,181.3 643.5,181.5 643.7,181.7 643.9,180.8 644.0,180.0 644.1,180.8 644.2,182.3 644.4,182.5 644.6,182.7 645.2,182.9 645.9,182.7 646.3,182.5 646.6,182.3 647.2,182.5 647.4,182.6 647.6,182.5 647.7,182.2 647.8,182.0 647.9,181.8 648.0,181.6 648.1,181.3 648.2,181.1 648.3,181.4 648.4,181.6 648.5,181.8 648.6,182.1 648.7,182.3 648.8,182.6 648.9,182.8 649.3,182.6 649.9,182.7 650.2,182.9 650.8,182.7 651.3,182.5 651.9,182.6 652.2,182.8 652.9,182.7 653.3,182.5 653.7,182.3 654.0,182.1 654.2,182.0 654.4,181.8 655.0,181.7 655.3,181.9 655.4,182.1 655.5,182.3 655.6,182.5 655.7,182.7 655.8,182.9 655.9,183.1 656.5,183.1 656.7,182.8 656.8,182.6 656.9,182.3 657.0,182.1 657.1,181.8 657.2,181.6 657.3,181.3 657.6,181.5 657.9,181.6 658.1,181.8 658.3,182.1 658.5,182.4 658.7,182.6 659.1,182.5 659.7,182.5 660.1,182.7 660.3,182.5 660.5,182.4 660.7,182.2 660.9,182.0 661.1,181.8 661.3,181.5 661.5,181.2 661.6,181.4 661.7,181.7 661.8,181.9 661.9,182.1 662.0,182.3 662.1,182.5 662.2,182.7 662.6,182.9 663.2,183.0 663.9,183.1 664.4,182.7 664.5,182.3 664.6,181.9 664.7,181.5 664.8,181.0 664.9,180.6 665.0,180.2 665.1,180.4 665.2,180.6 665.3,180.8 665.4,181.0 665.5,181.3 665.6,181.5 665.7,181.7 666.1,181.9 666.5,182.2 666.6,182.3 666.7,182.5 666.8,182.7 666.9,182.8 667.0,183.0 667.1,183.2 667.2,182.9 667.3,182.7 667.4,182.4 667.5,182.2 667.6,181.9 667.7,181.7 667.8,181.4 668.0,181.7 668.2,181.9 668.4,182.2 669.0,182.1 669.6,182.2 670.2,182.1 670.6,181.9 671.2,182.1 671.9,182.2 672.1,182.0 672.2,181.8 672.3,181.6 672.4,181.4 672.5,181.2 672.6,181.0 672.7,180.8 672.9,181.1 673.1,181.4 673.3,181.7 673.5,182.0 673.7,182.2 673.9,182.4 674.1,182.7 674.3,182.5 674.5,182.3 674.7,182.1 675.1,182.4 675.3,182.6 675.5,182.8 675.7,182.6 675.9,182.5 676.1,182.3 676.7,182.4 677.4,182.2 678.0,182.2 678.6,182.3 679.2,182.1 679.4,181.9 679.6,181.8 680.2,181.9 680.5,182.1 680.7,182.3 680.9,182.5 681.1,182.6 681.6,182.8 682.2,182.7 682.7,182.5 683.4,182.4 683.9,182.2 684.5,182.4 684.9,182.2 685.2,182.0 685.9,182.2 686.2,182.3 686.5,182.5 687.1,182.4 687.4,182.2 687.6,182.4 687.8,182.7 688.0,183.0 688.4,182.8 688.6,182.5 688.8,182.3 689.2,182.5 689.6,182.7 690.0,182.8 690.6,182.7 690.9,182.5 691.3,182.7 691.9,182.5 692.1,182.2 692.3,182.0 692.6,182.2 692.9,182.5 693.5,182.3 693.8,182.2 694.1,182.0 694.4,181.7 694.9,181.9 695.2,182.1 695.3,182.3 695.4,182.5 695.5,182.6 695.6,182.8 695.7,183.0 695.8,183.1 695.9,183.0 696.0,182.8 696.1,182.7 696.2,182.5 696.3,182.3 696.4,182.2 696.5,182.0 696.6,181.7 696.7,181.4 696.8,181.1 696.9,180.7 697.0,180.4 697.1,180.1 697.2,179.8 697.3,180.1 697.4,180.5 697.5,180.9 697.6,181.2 697.7,181.6 697.8,181.9 697.9,182.3 698.3,182.1 698.9,182.2 699.1,182.4 699.3,182.5 699.4,182.3 699.5,182.2 699.6,182.0 699.7,181.9 699.8,181.7 699.9,181.5 700.0,181.4 700.1,181.5 700.2,181.7 700.3,181.8 700.4,182.0 700.5,182.1 700.6,182.3 700.7,182.4 700.9,182.6 701.1,182.8 701.3,183.0 701.6,182.7 701.7,182.5 701.8,182.3 701.9,182.1 702.0,181.9 702.1,181.7 702.2,181.8 702.3,182.0 702.4,182.1 702.5,182.3 702.6,182.5 702.7,182.6 702.8,182.8 703.1,182.6 703.4,182.4 703.7,182.6 703.9,182.8 704.1,183.0 704.4,182.7 704.5,182.5 704.6,182.3 704.7,182.1 704.8,181.9 704.9,181.7 705.2,181.9 705.5,182.1 705.7,182.3 705.9,182.5 706.1,182.7 706.3,182.8 706.9,182.8 707.2,182.6 707.4,182.4 707.6,182.1 707.8,182.0 708.2,181.8 708.6,182.0 708.8,182.3 709.0,182.6 709.6,182.7 710.2,182.7 710.9,182.6 711.5,182.7 711.8,182.9 712.4,182.8 712.7,182.4 712.8,182.2 712.9,182.0 713.0,181.7 713.1,181.5 713.2,181.2 713.3,181.0 713.4,181.2 713.5,181.5 713.6,181.7 713.7,181.9 713.8,182.2 713.9,182.4 714.0,182.7 714.3,182.8 714.6,183.0 715.0,182.9 715.2,182.7 715.4,182.6 715.8,182.4 716.4,182.4 716.7,182.6 717.4,182.6 717.7,182.8 717.9,182.9 718.1,183.1 718.3,182.8 718.4,182.5 718.5,182.1 718.6,181.8 718.7,181.4 718.8,181.1 718.9,180.7 719.0,181.0 719.1,181.3 719.2,181.6 719.3,181.9 719.4,182.2 719.5,182.5 719.6,182.9 720.0,183.0 720.5,182.8 720.7,182.6 720.9,182.3 721.3,182.5 721.5,182.7 721.7,183.0 722.3,183.1 722.6,182.8 722.7,182.7 722.8,182.5 722.9,182.3 723.0,182.1 723.1,182.0 723.7,181.9 724.2,180.7 724.3,178.2 724.4,174.3 724.5,168.8 724.6,162.5 724.7,159.3 724.8,162.5 724.9,168.8 725.0,174.3 725.1,178.2 725.2,180.7 725.3,182.3 725.6,182.1 725.9,181.9 726.2,179.9 726.3,177.1 726.4,172.8 726.5,166.6 726.6,159.6 726.7,156.0 726.8,159.6 726.9,166.6 727.0,172.8 727.1,177.1 727.2,179.9 727.3,181.8 727.4,182.0 727.6,182.2 727.7,180.7 727.8,177.9 727.9,174.6 728.0,173.0 728.1,174.6 728.2,177.9 728.3,180.7 728.4,181.7 728.5,181.4 728.6,181.2 728.7,180.9 728.8,181.1 728.9,181.4 729.1,179.5 729.2,178.5 729.3,179.5 729.4,181.5 729.5,182.5 729.9,182.7 730.3,182.5 730.5,182.2 730.7,181.9 731.2,182.1 731.4,182.3 732.0,182.2 732.6,182.0 733.1,182.3 733.3,182.6 733.5,182.8 733.8,182.6 733.9,182.4 734.0,182.3 734.1,182.1 734.2,181.9 734.3,181.7 734.9,181.8 735.3,182.0 735.6,182.2 736.2,182.1 736.7,182.3 736.9,182.5 737.1,182.7 737.2,182.4 737.3,182.1 737.4,181.8 737.5,181.5 737.6,181.2 737.7,180.9 737.8,180.7 737.9,181.0 738.0,181.3 738.1,181.7 738.2,182.0 738.3,182.4 738.4,182.7 738.5,183.1 738.7,182.9 738.9,182.8 739.0,182.3 739.1,180.6 739.2,178.1 739.3,174.2 739.4,168.6 739.5,162.2 739.6,159.0 739.7,162.2 739.8,168.6 739.9,174.2 740.0,178.1 740.1,180.6 740.2,179.6 740.3,178.1 740.4,176.1 740.5,173.4 740.6,169.8 740.7,164.5 740.8,156.9 740.9,145.3 741.0,127.9 741.1,102.7 741.2,74.0 741.3,59.5 741.4,74.0 741.5,102.7 741.6,127.9 741.7,145.3 741.8,156.9 741.9,164.5 742.0,169.8 742.1,173.4 742.2,176.1 742.3,178.1 742.4,179.6 742.5,180.8 742.7,178.6 742.8,175.2 742.9,170.2 743.0,162.9 743.1,154.6 743.2,150.4 743.3,154.6 743.4,162.9 743.5,170.2 743.6,175.2 743.7,178.6 743.8,180.8 743.9,182.3 744.0,183.0 744.1,181.2 744.2,178.5 744.3,175.5 744.4,174.0 744.5,175.5 744.6,178.5 744.7,181.2 744.8,181.9 745.3,181.8 745.7,181.9 745.9,182.2 746.1,182.4 746.5,182.2 746.7,182.0 746.9,181.7 747.5,180.5 747.6,178.2 747.7,177.0 747.8,178.2 747.9,180.5 748.0,182.4 748.1,182.5 748.2,182.7 748.3,182.9 748.6,182.7 748.9,182.5 749.5,182.6 750.1,182.7 750.3,182.2 750.4,180.4 750.5,179.5 750.6,180.4 750.7,182.2 750.8,182.9 751.4,183.0 752.0,183.0 752.6,183.0 752.7,182.8 752.8,182.7 752.9,182.5 753.0,182.3 753.1,182.2 753.2,182.0 753.4,182.2 753.5,180.7 753.6,177.9 753.7,173.9 753.8,169.3 753.9,167.0 754.0,169.3 754.1,173.9 754.2,177.9 754.3,180.7 754.4,182.2 754.6,181.7 754.7,180.7 754.8,179.4 754.9,177.6 755.0,175.3 755.1,172.1 755.2,167.6 755.3,161.0 755.4,151.0 755.5,135.9 755.6,114.2 755.7,89.3 755.8,76.8 755.9,89.3 756.0,114.2 756.1,135.9 756.2,151.0 756.3,161.0 756.4,167.6 756.5,172.1 756.6,175.3 756.7,177.6 756.8,179.4 756.9,180.7 757.0,178.7 757.1,175.4 757.2,170.5 757.3,163.3 757.4,155.1 757.5,151.0 757.6,155.1 757.7,163.3 757.8,170.5 757.9,175.4 758.0,178.7 758.1,180.9 758.2,182.4 758.4,181.2 758.5,178.5 758.6,175.5 758.7,174.0 758.8,175.5 758.9,178.5 759.0,181.2 759.1,181.7 759.4,181.9 759.8,182.1 760.3,182.4 760.5,182.6 760.7,182.8 760.9,183.1 761.0,182.8 761.1,182.6 761.2,180.5 761.3,178.2 761.4,177.0 761.5,178.2 761.6,180.5 761.7,181.5 761.9,181.7 762.1,181.9 762.3,182.2 762.5,182.4 762.7,182.6 762.9,182.8 763.5,182.7 763.8,182.2 763.9,180.4 764.0,179.5 764.1,180.4 764.2,181.6 764.3,181.4 764.4,181.1 764.6,181.3 764.8,181.5 765.0,181.7 765.2,182.0 765.3,182.1 765.4,182.3 765.5,182.5 765.6,182.6 765.7,182.8 765.8,182.9 766.0,182.7 766.2,182.6 766.4,182.4 766.6,182.1 766.7,181.9 766.8,181.8 766.9,181.6 767.0,181.4 767.1,181.3 767.2,181.1 767.3,181.3 767.4,181.6 767.5,181.8 767.6,182.1 767.7,182.3 767.8,182.5 767.9,180.8 768.0,180.0 768.1,180.8 768.2,182.4 768.4,182.1 768.6,181.8 768.8,182.0 769.0,182.3 769.2,182.5 769.5,182.7 770.1,182.7 770.3,182.5 770.5,182.3 770.7,182.1 771.0,182.3 771.3,182.5 771.9,182.4 772.5,182.4 773.1,182.1 773.3,181.9 773.5,181.7 773.6,181.9 773.7,182.0 773.8,182.2 773.9,182.3 774.0,182.5 774.1,182.7 774.2,182.8 774.4,182.6 774.6,182.5 774.8,182.3 775.1,182.1 775.2,179.9 775.3,177.3 775.4,176.0 775.5,177.3 775.6,179.9 775.7,182.1 775.9,181.9 776.0,181.5 776.1,181.2 776.2,180.9 776.3,180.5 776.4,180.9 776.5,181.2 776.6,181.6 776.7,182.0 776.8,182.3 776.9,182.7 777.0,183.0 777.2,182.8 777.4,182.7 777.6,182.5 777.8,182.1 777.9,181.9 778.0,181.6 778.1,181.4 778.2,181.1 778.3,180.9 778.4,180.6 778.6,180.8 778.8,181.1 778.9,180.4 779.0,179.5 779.1,180.4 779.2,181.5 779.4,181.6 779.6,181.8 779.8,182.0 780.0,182.2 780.2,182.5 780.4,182.8 780.6,182.9 781.1,183.1 781.7,183.2 782.0,183.0 782.1,182.8 782.2,182.7 782.3,182.5 782.4,182.3 782.5,182.2 782.6,182.0 783.2,182.0 783.7,187.4" fill="#111" stroke="#111" stroke-width="1.1" stroke-linejoin="miter"/>
<text transform="translate(12.7,384.3) rotate(-90)" font-size="13.6"><tspan x="0">Relative </tspan><tspan x="52.9">intensity </tspan><tspan x="108.8" font-size="14.6">(%)</tspan></text>
<text x="3.8" y="225.0" font-size="19" text-anchor="start" textLength="20.4" lengthAdjust="spacing">C)</text>
<text x="25.4" y="244.6" font-size="14.0" text-anchor="end">100</text>
<text x="27.5" y="375.5" font-size="14.0" text-anchor="end">0</text>
<line x1="31.7" y1="238.7" x2="31.7" y2="377.5" stroke="#111" stroke-width="2"/>
<line x1="26.0" y1="239.7" x2="31.7" y2="239.7" stroke="#111" stroke-width="1.6"/>
<line x1="30.7" y1="376.6" x2="385.4" y2="376.6" stroke="#111" stroke-width="2.2"/>
<text x="27.6" y="393.3" font-size="14.0" text-anchor="start">1170</text>
<text x="192.6" y="393.0" font-size="14.0" text-anchor="start">1205</text>
<text x="357.6" y="393.2" font-size="14.0" text-anchor="start">1240</text>
<text x="179.3" y="410.2" font-size="14.0" text-anchor="start"><tspan font-style="italic">m/z</tspan> (amu)</text>
<text transform="translate(49.7,350.9) rotate(-90)" font-size="15.25" textLength="62.55" lengthAdjust="spacingAndGlyphs">1173.191</text>
<text transform="translate(62.2,345.2) rotate(-90)" font-size="15.25" textLength="61.72" lengthAdjust="spacingAndGlyphs">1175.215</text>
<text transform="translate(130.8,359.0) rotate(-90)" font-size="15.25" textLength="62.55" lengthAdjust="spacingAndGlyphs">1189.160</text>
<text transform="translate(155.5,296.3) rotate(-90)" font-size="15.25" textLength="62.97" lengthAdjust="spacingAndGlyphs">1191.175</text>
<text transform="translate(234.0,313.5) rotate(-90)" font-size="15.25" textLength="64.22" lengthAdjust="spacingAndGlyphs">1207.150</text>
<text transform="translate(255.1,355.0) rotate(-90)" font-size="15.25" textLength="62.55" lengthAdjust="spacingAndGlyphs">1213.177</text>
<text transform="translate(336.0,354.6) rotate(-90)" font-size="15.25" textLength="62.55" lengthAdjust="spacingAndGlyphs">1229.134</text>
<polyline points="32.50,373.4 32.75,373.4 33.00,373.3 33.25,373.2 33.50,373.2 33.75,373.2 34.00,373.1 34.25,373.1 34.50,373.1 34.75,373.1 35.00,373.0 35.25,372.9 35.50,372.8 35.75,372.8 36.00,372.8 36.25,372.9 36.50,373.1 36.75,373.1 37.00,373.2 37.25,373.1 37.50,373.0 37.75,372.9 38.00,372.8 38.25,373.0 38.50,373.5 38.75,374.0 39.00,374.3 39.25,374.3 39.50,374.1 39.75,373.8 40.00,373.5 40.25,373.3 40.50,372.9 40.75,372.3 41.00,371.5 41.25,371.3 41.50,371.9 41.75,372.4 42.00,372.7 42.25,373.0 42.50,373.0 42.75,373.0 43.00,372.8 43.25,372.6 43.50,372.5 43.75,372.6 44.00,372.9 44.25,373.1 44.50,372.9 44.75,372.1 45.00,371.7 45.25,372.2 45.50,372.5 45.75,372.7 46.00,372.8 46.25,372.7 46.50,372.5 46.75,371.9 47.00,370.4 47.25,368.0 47.50,363.5 47.75,357.6 47.90,356.0 48.00,356.8 48.25,362.3 48.50,367.2 48.75,369.9 49.00,371.2 49.25,372.1 49.50,372.8 49.75,373.4 50.00,373.8 50.25,373.9 50.50,373.8 50.75,373.7 51.00,373.5 51.25,373.3 51.50,373.0 51.75,372.4 52.00,371.4 52.25,369.1 52.50,365.7 52.75,362.6 52.80,362.5 53.00,364.0 53.25,367.6 53.50,370.1 53.75,370.9 54.00,371.7 54.25,372.2 54.50,372.4 54.75,372.7 55.00,373.0 55.25,373.4 55.50,373.6 55.75,373.5 56.00,373.1 56.25,372.5 56.50,371.8 56.75,371.1 57.00,370.3 57.25,368.7 57.50,365.1 57.75,358.4 58.00,350.9 58.10,349.8 58.25,351.9 58.50,359.8 58.75,365.8 59.00,369.1 59.25,370.8 59.50,372.0 59.75,372.8 60.00,373.3 60.25,373.5 60.50,373.6 60.75,373.8 61.00,373.8 61.25,373.6 61.50,373.0 61.75,372.0 62.00,370.7 62.25,369.4 62.50,366.6 62.75,364.1 62.80,364.0 63.00,365.5 63.25,368.8 63.50,371.3 63.75,372.5 64.00,373.1 64.25,373.4 64.50,373.5 64.75,373.4 65.00,373.0 65.25,372.6 65.50,372.5 65.75,372.5 66.00,372.5 66.25,372.5 66.50,372.5 66.75,372.4 67.00,372.3 67.25,372.1 67.50,371.3 67.75,369.3 68.00,368.0 68.25,369.1 68.50,370.4 68.75,371.3 69.00,372.0 69.25,372.5 69.50,372.9 69.75,373.2 70.00,373.3 70.25,373.3 70.50,373.2 70.75,373.2 71.00,373.1 71.25,373.3 71.50,373.5 71.75,373.8 72.00,373.9 72.25,373.8 72.50,373.2 72.75,372.5 73.00,371.8 73.25,372.0 73.50,372.4 73.75,372.7 74.00,373.0 74.25,373.1 74.50,373.1 74.75,373.0 75.00,372.8 75.25,372.7 75.50,372.7 75.75,372.7 76.00,372.7 76.25,372.7 76.50,372.7 76.75,372.8 77.00,373.0 77.25,373.2 77.50,373.2 77.75,372.7 78.00,371.8 78.25,371.7 78.50,372.4 78.75,373.0 79.00,373.4 79.25,373.6 79.50,373.8 79.75,373.9 80.00,373.9 80.25,373.8 80.50,373.5 80.75,373.2 81.00,373.0 81.25,373.4 81.50,373.8 81.75,374.1 82.00,374.2 82.25,374.2 82.50,374.1 82.75,374.0 83.00,373.9 83.25,373.9 83.50,373.8 83.75,373.6 84.00,373.5 84.25,373.4 84.50,373.5 84.75,373.9 85.00,374.2 85.25,374.4 85.50,374.2 85.75,373.8 86.00,373.3 86.25,372.9 86.50,372.6 86.75,372.2 87.00,371.6 87.25,371.7 87.50,372.5 87.75,373.1 88.00,373.4 88.25,373.6 88.50,373.7 88.75,373.7 89.00,373.5 89.25,373.3 89.50,373.0 89.75,372.9 90.00,373.1 90.25,373.3 90.50,373.5 90.75,373.6 91.00,373.6 91.25,373.7 91.50,373.7 91.75,373.7 92.00,373.6 92.25,373.4 92.50,373.0 92.75,372.9 93.00,373.1 93.25,373.3 93.50,373.3 93.75,373.2 94.00,373.2 94.25,373.2 94.50,373.5 94.75,373.9 95.00,374.3 95.25,374.4 95.50,374.0 95.75,373.5 96.00,373.0 96.25,372.6 96.50,372.8 96.75,373.2 97.00,373.7 97.25,374.0 97.50,373.9 97.75,373.3 98.00,372.2 98.25,370.9 98.50,370.8 98.75,371.6 99.00,372.2 99.25,372.5 99.50,372.6 99.75,372.8 100.00,373.2 100.25,373.8 100.50,374.2 100.75,374.4 101.00,374.1 101.25,373.7 101.50,373.3 101.75,373.1 102.00,373.1 102.25,373.4 102.50,373.6 102.75,373.7 103.00,373.8 103.25,373.7 103.50,373.5 103.75,373.4 104.00,373.3 104.25,373.3 104.50,373.5 104.75,373.5 105.00,373.2 105.25,372.5 105.50,372.5 105.75,373.2 106.00,373.6 106.25,373.9 106.50,373.9 106.75,373.9 107.00,373.7 107.25,373.5 107.50,373.1 107.75,372.1 108.00,370.9 108.25,370.7 108.50,371.5 108.75,372.3 109.00,373.0 109.25,373.6 109.50,373.8 109.75,373.7 110.00,373.4 110.25,373.1 110.50,372.8 110.75,372.6 111.00,372.2 111.25,371.7 111.50,370.9 111.75,371.1 112.00,371.8 112.25,372.2 112.50,372.4 112.75,372.6 113.00,372.7 113.25,373.1 113.50,373.5 113.75,373.7 114.00,373.8 114.25,373.8 114.50,373.8 114.75,373.9 115.00,373.9 115.25,373.8 115.50,373.7 115.75,373.6 116.00,373.5 116.25,373.4 116.50,373.3 116.75,373.1 117.00,372.9 117.25,372.8 117.50,372.9 117.75,373.0 118.00,372.8 118.25,372.3 118.50,372.3 118.75,372.7 119.00,372.8 119.25,372.7 119.50,372.8 119.75,372.8 120.00,372.8 120.25,372.8 120.50,372.7 120.75,372.6 121.00,372.3 121.25,371.8 121.50,371.6 121.75,372.1 122.00,372.8 122.25,373.5 122.50,374.1 122.75,374.2 123.00,374.0 123.25,373.5 123.50,373.0 123.75,372.7 124.00,372.8 124.25,373.3 124.50,373.8 124.75,374.2 125.00,374.2 125.25,374.1 125.50,373.9 125.75,373.7 126.00,373.6 126.25,373.4 126.50,373.1 126.75,372.8 127.00,372.3 127.25,371.6 127.50,370.4 127.75,368.4 128.00,364.5 128.25,361.1 128.30,361.0 128.50,362.9 128.75,367.1 129.00,370.0 129.25,371.7 129.50,372.4 129.75,372.5 130.00,372.4 130.25,372.3 130.50,372.3 130.75,372.5 131.00,372.8 131.25,373.0 131.50,373.0 131.75,373.0 132.00,373.0 132.25,372.9 132.50,372.6 132.75,371.8 133.00,370.1 133.25,368.2 133.40,367.7 133.50,367.9 133.75,369.6 134.00,371.4 134.25,372.3 134.50,372.7 134.75,372.9 135.00,372.9 135.25,372.9 135.50,372.7 135.75,372.4 136.00,371.9 136.25,370.9 136.50,369.9 136.75,368.9 137.00,368.2 137.25,366.6 137.50,363.7 137.75,358.5 138.00,349.1 138.25,331.2 138.50,297.9 138.75,254.1 138.90,242.4 139.00,247.8 139.25,289.0 139.50,325.9 139.75,346.4 140.00,357.1 140.25,362.9 140.50,366.1 140.75,368.0 141.00,369.2 141.25,370.5 141.50,370.7 141.75,370.4 142.00,369.6 142.25,368.9 142.50,367.5 142.75,365.3 143.00,361.2 143.25,353.3 143.50,338.0 143.75,313.1 144.00,296.6 144.25,313.2 144.50,338.2 144.75,353.7 145.00,361.7 145.25,366.0 145.50,368.4 145.75,369.8 146.00,370.9 146.25,371.3 146.50,371.3 146.75,371.2 147.00,371.0 147.25,370.5 147.50,369.6 147.75,368.3 148.00,365.2 148.25,359.3 148.50,349.1 148.75,339.9 148.80,339.6 149.00,344.7 149.25,356.0 149.50,363.7 149.75,367.8 150.00,369.9 150.25,371.2 150.50,372.0 150.75,372.7 151.00,373.2 151.25,373.5 151.50,373.4 151.75,373.1 152.00,372.5 152.25,372.1 152.50,371.9 152.75,372.0 153.00,372.1 153.25,371.6 153.50,369.5 153.75,366.2 154.00,362.4 154.10,361.9 154.25,362.9 154.50,366.8 154.75,369.7 155.00,371.2 155.25,371.8 155.50,372.1 155.75,372.3 156.00,372.7 156.25,373.2 156.50,373.7 156.75,374.0 157.00,373.9 157.25,373.6 157.50,373.2 157.75,372.9 158.00,372.8 158.25,372.6 158.50,372.2 158.75,371.6 159.00,370.7 159.25,369.8 159.50,368.8 159.75,369.9 160.00,371.2 160.25,372.2 160.50,372.6 160.75,372.7 161.00,372.8 161.25,372.9 161.50,373.1 161.75,373.6 162.00,374.0 162.25,374.2 162.50,374.2 162.75,374.0 163.00,373.8 163.25,373.6 163.50,373.6 163.75,373.7 164.00,373.8 164.25,373.9 164.50,373.9 164.75,373.6 165.00,372.9 165.25,372.0 165.50,371.0 165.75,371.1 166.00,372.1 166.25,372.9 166.50,373.4 166.75,373.7 167.00,373.7 167.25,373.7 167.50,373.6 167.75,373.6 168.00,373.5 168.25,373.3 168.50,372.9 168.75,372.7 169.00,372.7 169.25,372.7 169.50,372.8 169.75,372.9 170.00,372.9 170.25,372.9 170.50,372.8 170.75,372.7 171.00,372.6 171.25,372.5 171.50,372.6 171.75,372.6 172.00,372.6 172.25,372.8 172.50,373.1 172.75,373.3 173.00,373.4 173.25,373.5 173.50,373.5 173.75,373.4 174.00,373.2 174.25,373.1 174.50,373.1 174.75,373.2 175.00,373.3 175.25,373.4 175.50,373.4 175.75,373.3 176.00,373.2 176.25,372.9 176.50,372.6 176.75,372.9 177.00,373.3 177.25,373.5 177.50,373.6 177.75,373.6 178.00,373.7 178.25,373.9 178.50,374.1 178.75,374.1 179.00,374.1 179.25,374.0 179.50,373.8 179.75,373.8 180.00,373.7 180.25,373.4 180.50,373.0 180.75,372.6 181.00,372.2 181.25,371.9 181.50,371.3 181.75,371.1 182.00,371.6 182.25,372.1 182.50,372.5 182.75,372.9 183.00,373.1 183.25,373.2 183.50,373.3 183.75,373.4 184.00,373.5 184.25,373.5 184.50,373.6 184.75,373.7 185.00,373.8 185.25,373.9 185.50,373.9 185.75,374.0 186.00,374.1 186.25,374.2 186.50,374.3 186.75,374.2 187.00,374.1 187.25,373.9 187.50,373.7 187.75,373.5 188.00,373.0 188.25,372.1 188.50,371.7 188.75,372.1 189.00,372.4 189.25,372.6 189.50,372.6 189.75,372.6 190.00,372.6 190.25,372.8 190.50,372.9 190.75,372.7 191.00,372.0 191.25,371.6 191.50,372.0 191.75,372.3 192.00,372.5 192.25,372.7 192.50,372.8 192.75,372.8 193.00,372.8 193.25,372.7 193.50,372.7 193.75,372.4 194.00,372.0 194.25,371.4 194.50,371.5 194.75,372.2 195.00,372.7 195.25,372.9 195.50,373.0 195.75,373.1 196.00,373.0 196.25,373.0 196.50,373.0 196.75,373.2 197.00,373.4 197.25,373.6 197.50,373.7 197.75,373.5 198.00,373.2 198.25,372.9 198.50,372.4 198.75,371.9 199.00,371.2 199.25,371.4 199.50,372.5 199.75,373.1 200.00,373.4 200.25,373.5 200.50,373.5 200.75,373.5 201.00,373.4 201.25,373.3 201.50,373.1 201.75,373.0 202.00,373.0 202.25,373.0 202.50,373.1 202.75,373.1 203.00,373.0 203.25,373.0 203.50,372.9 203.75,372.7 204.00,372.2 204.25,372.1 204.50,372.5 204.75,372.6 205.00,372.5 205.25,372.5 205.50,372.6 205.75,372.8 206.00,373.0 206.25,373.1 206.50,373.1 206.75,373.0 207.00,372.9 207.25,372.7 207.50,372.2 207.75,371.9 208.00,372.5 208.25,373.4 208.50,373.9 208.75,373.9 209.00,373.7 209.25,373.5 209.50,373.3 209.75,373.3 210.00,373.4 210.25,373.5 210.50,373.5 210.75,373.3 211.00,372.8 211.25,371.8 211.50,371.2 211.75,371.7 212.00,372.3 212.25,372.8 212.50,373.1 212.75,373.3 213.00,373.3 213.25,373.2 213.50,373.0 213.75,372.8 214.00,372.7 214.25,372.7 214.50,372.8 214.75,372.8 215.00,372.8 215.25,372.6 215.50,372.4 215.75,372.0 216.00,371.5 216.25,371.0 216.50,371.1 216.75,371.4 217.00,371.5 217.25,371.2 217.50,370.2 217.75,368.8 218.00,366.7 218.25,363.0 218.50,356.4 218.75,343.8 219.00,320.3 219.25,289.5 219.40,281.3 219.50,285.1 219.75,314.1 220.00,340.0 220.25,354.3 220.50,361.7 220.75,365.7 221.00,368.1 221.25,369.5 221.50,370.5 221.75,371.0 222.00,371.0 222.25,370.7 222.50,370.2 222.75,369.4 223.00,368.7 223.25,366.7 223.50,362.8 223.75,355.4 224.00,341.6 224.25,323.5 224.40,318.6 224.50,320.9 224.75,338.2 225.00,353.5 225.25,362.0 225.50,366.4 225.75,368.7 226.00,369.5 226.25,370.3 226.50,370.8 226.75,371.1 227.00,371.2 227.25,371.3 227.50,371.3 227.75,371.4 228.00,371.2 228.25,370.5 228.50,369.0 228.75,366.0 229.00,360.3 229.25,351.1 229.50,345.0 229.75,351.2 230.00,360.5 230.25,366.3 230.50,369.3 230.75,371.2 231.00,371.7 231.25,371.9 231.50,371.9 231.75,372.1 232.00,372.2 232.25,372.2 232.50,372.2 232.75,372.1 233.00,372.2 233.25,372.3 233.50,372.2 233.75,371.7 234.00,370.4 234.25,368.0 234.50,365.3 234.60,364.9 234.75,365.7 235.00,368.5 235.25,370.4 235.50,371.6 235.75,372.2 236.00,372.5 236.25,372.7 236.50,372.8 236.75,372.9 237.00,372.9 237.25,373.0 237.50,373.2 237.75,373.6 238.00,373.8 238.25,373.8 238.50,373.5 238.75,372.9 239.00,372.1 239.25,371.0 239.50,370.0 239.70,369.4 239.75,369.4 240.00,370.4 240.25,371.7 240.50,372.5 240.75,372.8 241.00,373.0 241.25,373.0 241.50,373.1 241.75,373.2 242.00,373.3 242.25,373.5 242.50,373.6 242.75,373.6 243.00,373.4 243.25,373.3 243.50,373.1 243.75,372.9 244.00,372.6 244.25,372.2 244.50,372.3 244.75,372.6 245.00,372.8 245.25,372.9 245.50,373.1 245.75,373.1 246.00,373.2 246.25,373.1 246.50,373.1 246.75,373.0 247.00,372.9 247.25,373.0 247.50,373.4 247.75,373.6 248.00,373.8 248.25,373.5 248.50,373.0 248.75,372.2 249.00,370.4 249.25,368.0 249.50,363.3 249.75,357.2 249.90,355.6 250.00,356.3 250.25,361.9 250.50,367.0 250.75,369.8 251.00,371.1 251.25,371.8 251.50,372.2 251.75,372.5 252.00,372.8 252.25,373.0 252.50,372.8 252.75,372.5 253.00,372.5 253.25,372.5 253.50,372.3 253.75,372.1 254.00,371.7 254.25,370.9 254.50,369.5 254.75,366.8 255.00,364.9 255.25,366.6 255.50,368.9 255.75,370.4 256.00,369.1 256.25,367.5 256.40,367.1 256.50,367.4 256.75,369.4 257.00,371.2 257.25,372.3 257.50,372.9 257.75,373.4 258.00,373.6 258.25,373.7 258.50,373.9 258.75,374.0 259.00,374.0 259.25,373.9 259.50,373.7 259.75,373.4 260.00,372.8 260.25,371.6 260.50,369.4 260.70,368.7 260.75,368.7 261.00,370.1 261.25,371.8 261.50,372.8 261.75,373.3 262.00,373.6 262.25,373.8 262.50,373.9 262.75,374.0 263.00,374.0 263.25,374.0 263.50,374.1 263.75,374.1 264.00,374.2 264.25,374.3 264.50,374.4 264.75,374.4 265.00,374.1 265.25,373.9 265.50,373.6 265.75,373.6 266.00,373.6 266.25,373.6 266.50,373.6 266.75,373.6 267.00,373.4 267.25,373.1 267.50,372.6 267.75,371.9 268.00,371.8 268.25,372.4 268.50,372.8 268.75,373.1 269.00,373.1 269.25,373.3 269.50,373.5 269.75,373.7 270.00,373.9 270.25,373.8 270.50,373.4 270.75,373.0 271.00,372.5 271.25,372.1 271.50,371.7 271.75,371.5 272.00,372.1 272.25,373.1 272.50,373.6 272.75,373.6 273.00,373.5 273.25,373.3 273.50,373.3 273.75,373.1 274.00,372.8 274.25,372.2 274.50,371.8 274.75,372.3 275.00,372.9 275.25,373.2 275.50,373.4 275.75,373.5 276.00,373.6 276.25,373.8 276.50,373.9 276.75,373.7 277.00,373.1 277.25,372.5 277.50,372.5 277.75,372.6 278.00,372.8 278.25,373.1 278.50,373.5 278.75,373.7 279.00,373.8 279.25,373.9 279.50,374.1 279.75,374.3 280.00,374.4 280.25,374.3 280.50,374.0 280.75,373.6 281.00,373.4 281.25,373.4 281.50,373.6 281.75,373.9 282.00,374.2 282.25,374.2 282.50,374.0 282.75,373.7 283.00,373.3 283.25,373.0 283.50,372.7 283.75,372.1 284.00,371.8 284.25,372.3 284.50,372.9 284.75,373.2 285.00,373.3 285.25,373.2 285.50,373.2 285.75,373.2 286.00,373.0 286.25,372.7 286.50,372.6 286.75,372.5 287.00,372.4 287.25,372.2 287.50,372.0 287.75,372.2 288.00,372.7 288.25,373.1 288.50,373.4 288.75,373.6 289.00,373.6 289.25,373.4 289.50,373.2 289.75,373.0 290.00,373.0 290.25,373.1 290.50,373.2 290.75,373.3 291.00,373.3 291.25,373.4 291.50,373.5 291.75,373.7 292.00,373.8 292.25,373.8 292.50,373.9 292.75,374.0 293.00,374.0 293.25,374.0 293.50,373.7 293.75,373.2 294.00,372.4 294.25,371.6 294.50,371.5 294.75,372.2 295.00,372.8 295.25,373.1 295.50,373.2 295.75,373.1 296.00,372.9 296.25,372.8 296.50,372.7 296.75,372.7 297.00,372.7 297.25,372.7 297.50,372.8 297.75,372.8 298.00,372.9 298.25,373.1 298.50,373.3 298.75,373.3 299.00,373.4 299.25,373.5 299.50,373.6 299.75,373.6 300.00,373.4 300.25,372.8 300.50,372.2 300.75,372.0 301.00,372.4 301.25,372.9 301.50,373.6 301.75,374.2 302.00,374.4 302.25,374.4 302.50,374.4 302.75,374.3 303.00,374.2 303.25,374.2 303.50,374.0 303.75,373.7 304.00,373.5 304.25,373.4 304.50,373.3 304.75,373.2 305.00,373.1 305.25,372.9 305.50,372.7 305.75,372.4 306.00,372.6 306.25,373.3 306.50,373.7 306.75,373.7 307.00,373.5 307.25,373.3 307.50,373.2 307.75,373.1 308.00,373.0 308.25,372.8 308.50,372.6 308.75,372.5 309.00,372.5 309.25,372.3 309.50,372.4 309.75,372.8 310.00,373.2 310.25,373.4 310.50,373.5 310.75,373.6 311.00,373.6 311.25,373.8 311.50,373.9 311.75,374.0 312.00,374.0 312.25,374.0 312.50,374.0 312.75,373.9 313.00,373.9 313.25,373.7 313.50,373.3 313.75,372.8 314.00,372.4 314.25,372.1 314.50,371.9 314.75,372.0 315.00,372.7 315.25,373.2 315.50,373.3 315.75,373.1 316.00,372.8 316.25,372.6 316.50,372.7 316.75,372.7 317.00,372.7 317.25,372.7 317.50,372.7 317.75,372.9 318.00,373.0 318.25,373.0 318.50,372.9 318.75,372.6 319.00,372.6 319.25,373.2 319.50,373.6 319.75,373.7 320.00,373.5 320.25,373.1 320.50,372.8 320.75,372.7 321.00,372.8 321.25,373.1 321.50,373.4 321.75,373.6 322.00,373.6 322.25,373.6 322.50,373.6 322.75,373.7 323.00,373.7 323.25,373.7 323.50,373.7 323.75,373.7 324.00,373.6 324.25,373.4 324.50,372.8 324.75,372.0 325.00,371.0 325.25,370.8 325.50,371.6 325.75,372.4 326.00,373.0 326.25,373.2 326.50,373.3 326.75,373.5 327.00,373.6 327.25,373.6 327.50,373.5 327.75,373.3 328.00,373.0 328.25,372.7 328.50,372.2 328.75,371.6 329.00,370.0 329.25,367.2 329.50,362.3 329.75,357.7 329.80,357.6 330.00,359.9 330.25,365.3 330.50,368.9 330.75,370.7 331.00,371.8 331.25,372.4 331.50,372.9 331.75,373.1 332.00,373.3 332.25,373.4 332.50,373.6 332.75,373.6 333.00,373.6 333.25,373.3 333.50,372.9 333.75,372.6 334.00,372.3 334.25,372.0 334.50,371.3 334.75,370.3 335.00,368.0 335.25,366.0 335.30,365.9 335.50,367.1 335.75,369.8 336.00,372.2 336.25,373.1 336.50,373.3 336.75,373.3 337.00,373.2 337.25,373.2 337.50,373.3 337.75,373.5 338.00,373.6 338.25,373.6 338.50,373.4 338.75,372.9 339.00,372.2 339.25,371.3 339.50,370.0 339.75,368.6 340.00,367.3 340.25,368.7 340.50,370.3 340.75,371.6 341.00,372.6 341.25,373.2 341.50,373.6 341.75,373.8 342.00,373.8 342.25,373.9 342.50,373.9 342.75,373.9 343.00,374.0 343.25,374.1 343.50,374.1 343.75,374.2 344.00,374.0 344.25,373.6 344.50,373.1 344.75,372.7 345.00,372.6 345.25,372.9 345.50,373.2 345.75,373.6 346.00,373.6 346.25,373.3 346.50,372.7 346.75,371.9 347.00,371.6 347.25,372.2 347.50,372.8 347.75,373.1 348.00,373.3 348.25,373.4 348.50,373.4 348.75,373.4 349.00,373.3 349.25,373.2 349.50,373.2 349.75,373.2 350.00,373.3 350.25,373.3 350.50,373.2 350.75,373.1 351.00,372.9 351.25,372.6 351.50,372.2 351.75,371.7 352.00,371.5 352.25,372.4 352.50,373.3 352.75,373.7 353.00,373.6 353.25,373.3 353.50,373.0 353.75,373.0 354.00,373.1 354.25,373.4 354.50,373.7 354.75,373.8 355.00,373.8 355.25,373.7 355.50,373.4 355.75,373.2 356.00,372.8 356.25,372.6 356.50,372.9 356.75,373.3 357.00,373.6 357.25,373.7 357.50,373.7 357.75,373.7 358.00,373.7 358.25,373.5 358.50,373.2 358.75,372.6 359.00,372.3 359.25,372.7 359.50,373.0 359.75,373.2 360.00,373.3 360.25,373.3 360.50,373.3 360.75,373.1 361.00,372.9 361.25,372.3 361.50,371.5 361.75,371.5 362.00,372.1 362.25,372.5 362.50,372.7 362.75,372.9 363.00,373.1 363.25,373.2 363.50,373.2 363.75,373.3 364.00,373.6 364.25,373.9 364.50,374.2 364.75,374.3 365.00,374.1 365.25,373.9 365.50,373.6 365.75,373.1 366.00,372.4 366.25,371.7 366.50,372.0 366.75,372.6 367.00,373.0 367.25,373.0 367.50,372.8 367.75,372.5 368.00,372.3 368.25,372.1 368.50,371.6 368.75,371.2 369.00,371.5 369.25,372.1 369.50,372.6 369.75,373.0 370.00,373.3 370.25,373.4 370.50,373.6 370.75,373.9 371.00,374.2 371.25,374.4 371.50,374.3 371.75,373.9 372.00,373.5 372.25,373.2 372.50,373.1 372.75,373.2 373.00,373.4 373.25,373.6 373.50,373.6 373.75,373.5 374.00,373.4 374.25,373.2 374.50,373.0 374.75,372.7 375.00,372.0 375.25,371.4 375.50,371.7 375.75,372.3 376.00,372.7 376.25,373.0 376.50,373.1 376.75,373.2 377.00,373.2 377.25,373.3 377.50,373.4 377.75,373.5 378.00,373.5 378.25,373.3 378.50,373.0 378.75,372.7 379.00,372.4 379.25,372.2 379.50,371.9 379.75,371.9 380.00,372.6 380.25,373.1 380.50,373.4 380.75,373.5 381.00,373.5 381.25,373.6 381.50,373.4 381.75,373.1 382.00,372.7 382.25,372.3 382.50,372.1 382.75,372.4 383.00,373.1 383.25,373.6 383.50,373.9 383.75,373.9 384.00,373.9 384.25,373.8 384.50,373.8 384.75,373.6 385.00,373.2 385.25,372.7" fill="none" stroke="#111" stroke-width="1.45" stroke-linejoin="round"/>
<polyline points="32.6,374.3 35,374.6 37.5,374.3 40,374.7 42,374.9" fill="none" stroke="#111" stroke-width="1.2"/>
<text transform="translate(400.6,385.3) rotate(-90)" font-size="13.6"><tspan x="0">Relative </tspan><tspan x="52.9">intensity </tspan><tspan x="108.8" font-size="14.6">(%)</tspan></text>
<text x="391.0" y="228.8" font-size="19" text-anchor="start" textLength="20.4" lengthAdjust="spacing">D)</text>
<text x="409.8" y="249.1" font-size="14.0" text-anchor="end">100</text>
<text x="412.3" y="380.0" font-size="14.0" text-anchor="end">0</text>
<line x1="417.1" y1="244.2" x2="417.1" y2="378.6" stroke="#111" stroke-width="2"/>
<line x1="411.0" y1="245.2" x2="417.1" y2="245.2" stroke="#111" stroke-width="1.6"/>
<line x1="416.1" y1="377.9" x2="780" y2="378.5" stroke="#111" stroke-width="2.2"/>
<text x="414.5" y="394.7" font-size="14.0" text-anchor="start" textLength="31.7" lengthAdjust="spacingAndGlyphs">1170</text>
<text x="584.9" y="394.2" font-size="14.0" text-anchor="start" textLength="33.2" lengthAdjust="spacingAndGlyphs">1205</text>
<text x="750.5" y="394.3" font-size="14.0" text-anchor="start">1240</text>
<text x="571.7" y="410.2" font-size="14.0" text-anchor="start"><tspan font-style="italic">m/z</tspan> (amu)</text>
<text transform="translate(437.6,349.2) rotate(-90)" font-size="15.25" textLength="61.72" lengthAdjust="spacingAndGlyphs">1173.175</text>
<text transform="translate(450.0,312.5) rotate(-90)" font-size="15.25" textLength="62.13" lengthAdjust="spacingAndGlyphs">1175.194</text>
<text transform="translate(523.0,349.5) rotate(-90)" font-size="15.25" textLength="62.13" lengthAdjust="spacingAndGlyphs">1189.167</text>
<text transform="translate(543.0,299.3) rotate(-90)" font-size="15.25" textLength="64.22" lengthAdjust="spacingAndGlyphs">1191.197</text>
<text transform="translate(606.0,366.2) rotate(-90)" font-size="15.25" textLength="64.22" lengthAdjust="spacingAndGlyphs">1205.158</text>
<text transform="translate(628.3,315.3) rotate(-90)" font-size="15.25" textLength="62.97" lengthAdjust="spacingAndGlyphs">1207.168</text>
<text transform="translate(650.4,366.2) rotate(-90)" font-size="15.25" textLength="64.22" lengthAdjust="spacingAndGlyphs">1213.154</text>
<text transform="translate(734.0,365.7) rotate(-90)" font-size="15.25" textLength="63.38" lengthAdjust="spacingAndGlyphs">1229.134</text>
<polyline points="418.00,375.7 418.25,375.5 418.50,375.1 418.75,374.6 419.00,374.3 419.25,374.3 419.50,374.8 419.75,375.3 420.00,375.8 420.25,375.9 420.50,375.7 420.75,375.3 421.00,374.9 421.25,374.6 421.50,374.7 421.75,374.9 422.00,375.1 422.25,375.0 422.50,374.4 422.75,373.1 423.00,371.8 423.25,372.9 423.50,374.0 423.75,374.5 424.00,374.4 424.25,374.1 424.50,373.8 424.75,373.9 425.00,374.2 425.25,374.5 425.50,374.5 425.75,374.6 426.00,374.9 426.25,374.9 426.50,374.7 426.75,374.6 427.00,374.7 427.25,374.8 427.50,374.8 427.75,374.8 428.00,374.5 428.25,373.9 428.50,373.1 428.70,372.7 428.75,372.7 429.00,373.4 429.25,374.2 429.50,374.6 429.75,374.8 430.00,374.8 430.25,374.9 430.50,375.1 430.75,375.2 431.00,375.4 431.25,375.3 431.50,375.0 431.75,374.4 432.00,373.7 432.25,373.1 432.50,372.5 432.75,371.7 433.00,369.6 433.25,365.2 433.50,357.6 433.75,350.6 433.80,350.4 434.00,354.1 434.25,362.5 434.50,368.2 434.75,371.2 435.00,373.3 435.25,374.3 435.50,374.9 435.75,375.2 436.00,375.3 436.25,375.2 436.50,375.1 436.75,375.1 437.00,375.1 437.25,374.9 437.50,374.7 437.75,374.5 438.00,374.0 438.25,373.0 438.50,371.8 438.75,369.2 439.00,365.5 439.20,363.9 439.25,364.0 439.50,367.1 439.75,370.5 440.00,372.5 440.25,373.5 440.50,374.1 440.75,374.3 441.00,374.2 441.25,373.6 441.50,372.8 441.75,372.8 442.00,373.4 442.25,373.6 442.50,373.2 442.75,372.3 443.00,371.5 443.25,370.0 443.50,367.5 443.75,362.9 444.00,353.9 444.25,337.5 444.50,319.0 444.60,316.6 444.75,321.8 445.00,341.3 445.25,356.2 445.50,364.2 445.75,368.4 446.00,370.7 446.25,372.2 446.50,373.1 446.75,373.6 447.00,373.7 447.25,373.7 447.50,373.6 447.75,373.5 448.00,373.5 448.25,373.4 448.50,373.0 448.75,371.9 449.00,370.1 449.25,366.6 449.50,359.9 449.75,349.2 450.00,342.1 450.25,349.2 450.50,360.0 450.75,366.7 451.00,370.2 451.25,372.0 451.50,372.9 451.75,373.4 452.00,373.7 452.25,373.9 452.50,373.9 452.75,373.8 453.00,373.7 453.25,373.6 453.50,373.6 453.75,373.5 454.00,373.1 454.25,372.0 454.50,369.9 454.75,366.3 455.00,364.0 455.25,366.5 455.50,370.2 455.75,373.0 456.00,374.3 456.25,375.0 456.50,375.4 456.75,375.3 457.00,374.9 457.25,374.4 457.50,374.1 457.75,374.2 458.00,374.4 458.25,374.7 458.50,375.0 458.75,375.0 459.00,375.1 459.25,375.2 459.50,375.2 459.75,374.9 460.00,374.0 460.25,372.4 460.50,371.5 460.75,371.6 461.00,372.7 461.25,373.6 461.50,374.2 461.75,374.7 462.00,374.9 462.25,374.9 462.50,374.9 462.75,374.8 463.00,374.8 463.25,374.7 463.50,374.7 463.75,374.6 464.00,374.5 464.25,374.5 464.50,374.7 464.75,375.1 465.00,375.5 465.25,375.7 465.50,375.7 465.75,375.7 466.00,375.6 466.25,375.5 466.50,375.5 466.75,375.3 467.00,374.9 467.25,374.6 467.50,374.4 467.75,374.6 468.00,375.0 468.25,375.4 468.50,375.5 468.75,375.1 469.00,374.3 469.25,374.0 469.50,374.1 469.75,374.3 470.00,374.7 470.25,375.2 470.50,375.6 470.75,375.8 471.00,375.6 471.25,375.1 471.50,374.3 471.75,373.7 472.00,374.0 472.25,374.4 472.50,374.6 472.75,374.7 473.00,374.7 473.25,374.7 473.50,374.6 473.75,374.4 474.00,374.3 474.25,374.3 474.50,374.3 474.75,374.3 475.00,374.3 475.25,374.1 475.50,373.9 475.75,373.6 476.00,373.8 476.25,374.4 476.50,374.9 476.75,375.2 477.00,375.5 477.25,375.8 477.50,375.8 477.75,375.9 478.00,375.9 478.25,375.9 478.50,375.9 478.75,375.8 479.00,375.6 479.25,375.4 479.50,375.2 479.75,375.1 480.00,375.0 480.25,374.9 480.50,374.6 480.75,374.1 481.00,374.2 481.25,374.9 481.50,375.5 481.75,375.9 482.00,375.8 482.25,375.4 482.50,374.9 482.75,374.5 483.00,374.5 483.25,374.7 483.50,374.9 483.75,375.1 484.00,375.2 484.25,375.2 484.50,375.0 484.75,374.9 485.00,374.7 485.25,374.6 485.50,374.7 485.75,374.7 486.00,374.3 486.25,373.7 486.50,374.0 486.75,374.7 487.00,375.2 487.25,375.4 487.50,375.6 487.75,375.8 488.00,376.0 488.25,376.2 488.50,376.2 488.75,376.1 489.00,375.9 489.25,375.7 489.50,375.6 489.75,375.6 490.00,375.6 490.25,375.7 490.50,375.7 490.75,375.6 491.00,375.5 491.25,375.3 491.50,375.0 491.75,374.7 492.00,374.1 492.25,373.5 492.50,373.7 492.75,374.4 493.00,374.8 493.25,374.8 493.50,374.7 493.75,374.5 494.00,374.5 494.25,374.5 494.50,374.5 494.75,374.5 495.00,374.5 495.25,374.7 495.50,375.2 495.75,375.6 496.00,375.9 496.25,375.9 496.50,375.8 496.75,375.6 497.00,375.4 497.25,375.3 497.50,375.3 497.75,375.2 498.00,374.9 498.25,374.1 498.50,372.3 498.70,371.7 498.75,371.7 499.00,372.6 499.25,373.5 499.50,374.0 499.75,374.2 500.00,374.1 500.25,373.8 500.50,373.5 500.75,373.2 501.00,372.9 501.25,373.3 501.50,374.5 501.75,375.1 502.00,375.0 502.25,374.8 502.50,374.6 502.75,374.6 503.00,374.7 503.25,375.0 503.50,375.3 503.75,375.4 504.00,375.3 504.25,375.3 504.50,375.0 504.75,374.3 505.00,374.0 505.25,374.4 505.50,374.6 505.75,374.5 506.00,374.5 506.25,374.7 506.50,375.0 506.75,375.3 507.00,375.5 507.25,375.5 507.50,375.6 507.75,375.7 508.00,375.8 508.25,375.8 508.50,375.6 508.75,375.2 509.00,374.6 509.25,373.9 509.50,373.6 509.75,374.3 510.00,375.0 510.25,375.4 510.50,375.6 510.75,375.6 511.00,375.5 511.25,375.4 511.50,375.4 511.75,375.4 512.00,375.4 512.25,375.3 512.50,375.3 512.75,375.3 513.00,375.2 513.25,375.1 513.50,374.9 513.75,374.5 514.00,373.7 514.25,373.3 514.50,373.7 514.75,374.2 515.00,374.6 515.25,374.8 515.50,375.0 515.75,375.2 516.00,375.1 516.25,375.0 516.50,374.9 516.75,374.6 517.00,373.9 517.25,372.2 517.50,369.9 517.75,365.4 518.00,357.7 518.25,350.8 518.30,350.5 518.50,354.3 518.75,362.7 519.00,368.4 519.25,371.4 519.50,373.3 519.75,373.9 520.00,374.2 520.25,374.3 520.50,374.5 520.75,374.7 521.00,374.8 521.25,374.9 521.50,374.9 521.75,374.5 522.00,374.0 522.25,373.3 522.50,372.4 522.75,371.4 523.00,368.6 523.25,365.0 523.40,364.0 523.50,364.4 523.75,367.9 524.00,370.9 524.25,372.3 524.50,373.0 524.75,373.4 525.00,373.5 525.25,373.4 525.50,373.1 525.75,372.9 526.00,372.8 526.25,373.0 526.50,373.1 526.75,372.3 527.00,371.3 527.25,369.8 527.50,367.3 527.75,363.2 528.00,355.9 528.25,342.1 528.50,315.7 528.75,272.9 529.00,244.5 529.25,272.8 529.50,315.5 529.75,341.8 530.00,355.5 530.25,362.7 530.50,366.7 530.75,369.0 531.00,370.4 531.25,371.2 531.50,371.5 531.75,371.5 532.00,371.2 532.25,370.9 532.50,369.8 532.75,367.8 533.00,364.0 533.25,356.8 533.50,342.6 533.75,319.5 534.00,304.2 534.25,319.4 534.50,342.4 534.75,356.7 535.00,364.3 535.25,368.5 535.50,370.8 535.75,372.2 536.00,373.4 536.25,373.4 536.50,373.2 536.75,373.1 537.00,373.2 537.25,373.5 537.50,373.8 537.75,373.7 538.00,373.0 538.25,371.3 538.50,368.8 538.75,364.1 539.00,355.5 539.25,344.3 539.40,341.4 539.50,342.8 539.75,353.7 540.00,363.3 540.25,368.6 540.50,371.2 540.75,372.3 541.00,372.6 541.25,373.0 541.50,373.4 541.75,373.8 542.00,374.0 542.25,374.2 542.50,374.2 542.75,374.0 543.00,373.8 543.25,373.6 543.50,373.3 543.75,372.9 544.00,372.2 544.25,370.6 544.50,367.2 544.75,364.1 544.80,364.0 545.00,365.8 545.25,369.6 545.50,372.2 545.75,374.0 546.00,374.2 546.25,374.1 546.50,373.8 546.75,373.7 547.00,373.8 547.25,373.8 547.50,373.7 547.75,373.8 548.00,374.3 548.25,374.8 548.50,375.1 548.75,375.2 549.00,374.8 549.25,373.6 549.50,371.4 549.75,368.9 549.90,368.3 550.00,368.6 550.25,370.8 550.50,372.7 550.75,373.8 551.00,374.4 551.25,374.7 551.50,374.8 551.75,374.8 552.00,374.6 552.25,374.1 552.50,373.5 552.75,373.8 553.00,374.7 553.25,375.4 553.50,375.6 553.75,375.8 554.00,375.9 554.25,376.0 554.50,376.0 554.75,375.7 555.00,375.4 555.25,375.0 555.50,374.6 555.75,374.4 556.00,374.4 556.25,374.8 556.50,375.2 556.75,375.4 557.00,375.6 557.25,375.9 557.50,376.1 557.75,376.1 558.00,376.0 558.25,375.9 558.50,375.7 558.75,375.6 559.00,375.5 559.25,375.3 559.50,375.1 559.75,375.0 560.00,375.0 560.25,374.9 560.50,374.9 560.75,374.9 561.00,374.9 561.25,374.9 561.50,374.9 561.75,374.8 562.00,374.5 562.25,374.6 562.50,374.9 562.75,375.2 563.00,375.3 563.25,375.4 563.50,375.4 563.75,375.3 564.00,375.3 564.25,375.1 564.50,374.9 564.75,374.5 565.00,373.8 565.25,372.1 565.50,369.3 565.75,364.7 566.00,361.7 566.25,364.7 566.50,369.3 566.75,372.1 567.00,373.8 567.25,374.4 567.50,374.7 567.75,375.0 568.00,375.3 568.25,375.6 568.50,375.9 568.75,376.0 569.00,375.8 569.25,375.4 569.50,374.9 569.75,374.7 570.00,374.5 570.25,374.3 570.50,373.9 570.75,373.2 571.00,372.1 571.25,369.7 571.50,368.2 571.75,369.7 572.00,372.1 572.25,373.5 572.50,374.6 572.75,375.3 573.00,375.8 573.25,375.8 573.50,375.5 573.75,375.0 574.00,374.5 574.25,374.6 574.50,374.9 574.75,375.2 575.00,375.2 575.25,375.2 575.50,375.3 575.75,375.4 576.00,375.4 576.25,375.1 576.50,374.2 576.75,372.1 577.00,371.0 577.25,371.8 577.50,372.5 577.75,373.4 578.00,374.0 578.25,374.3 578.50,374.5 578.75,374.5 579.00,374.4 579.25,374.2 579.50,374.1 579.75,374.6 580.00,374.9 580.25,375.0 580.50,375.0 580.75,375.0 581.00,375.1 581.25,375.4 581.50,375.7 581.75,376.0 582.00,376.1 582.25,376.1 582.50,376.1 582.75,376.1 583.00,376.0 583.25,376.0 583.50,375.8 583.75,375.6 584.00,375.4 584.25,375.4 584.50,375.2 584.75,375.0 585.00,374.9 585.25,374.7 585.50,374.4 585.75,374.1 586.00,374.1 586.25,374.5 586.50,374.9 586.75,375.4 587.00,375.9 587.25,376.3 587.50,376.3 587.75,376.1 588.00,375.6 588.25,375.2 588.50,374.8 588.75,374.5 589.00,374.2 589.25,374.3 589.50,374.4 589.75,374.5 590.00,374.7 590.25,374.8 590.50,375.0 590.75,375.0 591.00,374.9 591.25,374.8 591.50,374.7 591.75,374.6 592.00,374.6 592.25,374.6 592.50,374.6 592.75,374.5 593.00,374.5 593.25,374.8 593.50,375.3 593.75,375.7 594.00,375.7 594.25,375.4 594.50,375.0 594.75,374.8 595.00,375.2 595.25,375.5 595.50,375.5 595.75,375.4 596.00,375.3 596.25,375.3 596.50,375.1 596.75,374.8 597.00,374.5 597.25,374.3 597.50,374.3 597.75,374.4 598.00,374.5 598.25,374.0 598.50,373.3 598.75,373.3 599.00,373.7 599.25,373.9 599.50,374.1 599.75,374.2 600.00,374.4 600.25,374.5 600.50,374.5 600.75,374.5 601.00,374.6 601.25,374.6 601.50,374.6 601.75,374.2 602.00,373.3 602.25,371.6 602.50,368.7 602.75,366.1 602.80,366.0 603.00,367.4 603.25,370.5 603.50,372.1 603.75,373.0 604.00,373.6 604.25,374.0 604.50,374.3 604.75,374.5 605.00,374.6 605.25,374.8 605.50,375.1 605.75,375.4 606.00,375.5 606.25,375.4 606.50,375.0 606.75,374.4 607.00,373.6 607.25,372.7 607.50,371.7 607.75,369.8 607.90,369.3 608.00,369.6 608.25,371.5 608.50,373.5 608.75,374.2 609.00,374.5 609.25,374.5 609.50,374.3 609.75,373.6 610.00,372.6 610.25,371.7 610.50,371.9 610.75,372.1 611.00,371.9 611.25,371.4 611.50,370.9 611.75,369.1 612.00,366.1 612.25,360.6 612.50,350.1 612.75,329.9 613.00,300.0 613.20,286.7 613.25,287.7 613.50,312.2 613.75,339.4 614.00,355.1 614.25,363.2 614.50,367.4 614.75,369.7 615.00,371.0 615.25,371.4 615.50,371.4 615.75,371.6 616.00,371.7 616.25,371.7 616.50,371.3 616.75,370.5 617.00,368.4 617.25,364.3 617.50,356.3 617.75,341.8 618.00,325.5 618.10,323.4 618.25,328.0 618.50,345.3 618.75,358.5 619.00,365.7 619.25,369.4 619.50,371.4 619.75,372.2 620.00,372.8 620.25,373.2 620.50,373.5 620.75,373.8 621.00,374.0 621.25,374.1 621.50,374.1 621.75,373.9 622.00,373.6 622.25,373.0 622.50,371.5 622.75,368.8 623.00,363.5 623.25,355.1 623.50,349.5 623.75,355.1 624.00,363.5 624.25,368.7 624.50,371.3 624.75,372.6 625.00,373.2 625.25,373.2 625.50,372.7 625.75,372.4 626.00,373.2 626.25,373.8 626.50,374.1 626.75,374.1 627.00,374.2 627.25,374.3 627.50,374.6 627.75,374.8 628.00,374.6 628.25,373.8 628.50,371.9 628.75,369.4 629.00,367.7 629.25,369.4 629.50,372.0 629.75,373.7 630.00,374.1 630.25,374.3 630.50,374.6 630.75,375.0 631.00,375.4 631.25,375.7 631.50,375.8 631.75,375.7 632.00,375.6 632.25,375.5 632.50,375.3 632.75,375.2 633.00,375.1 633.25,374.6 633.50,373.5 633.75,370.9 634.00,369.4 634.25,370.6 634.50,372.2 634.75,373.3 635.00,374.2 635.25,374.8 635.50,375.4 635.75,375.6 636.00,375.6 636.25,375.5 636.50,375.3 636.75,375.2 637.00,375.4 637.25,375.4 637.50,375.2 637.75,375.0 638.00,374.9 638.25,375.0 638.50,375.2 638.75,375.4 639.00,375.6 639.25,375.6 639.50,375.7 639.75,375.9 640.00,376.0 640.25,376.0 640.50,375.8 640.75,375.4 641.00,375.0 641.25,374.8 641.50,374.9 641.75,375.1 642.00,375.4 642.25,375.7 642.50,375.7 642.75,375.7 643.00,375.7 643.25,375.6 643.50,375.5 643.75,375.2 644.00,374.5 644.25,373.5 644.50,372.1 644.75,370.7 645.00,368.5 645.10,368.2 645.25,368.9 645.50,371.3 645.75,372.7 646.00,373.7 646.25,374.3 646.50,374.6 646.75,374.8 647.00,374.9 647.25,375.3 647.50,375.6 647.75,375.9 648.00,375.9 648.25,375.6 648.50,375.2 648.75,374.8 649.00,374.4 649.25,374.1 649.50,373.4 649.75,372.5 650.00,371.7 650.25,372.5 650.50,373.5 650.75,374.2 651.00,374.5 651.25,374.6 651.50,374.9 651.75,375.3 652.00,375.6 652.25,375.8 652.50,375.8 652.75,375.6 653.00,375.3 653.25,375.0 653.50,375.0 653.75,375.0 654.00,374.9 654.25,374.9 654.50,374.9 654.75,374.9 655.00,375.0 655.25,375.0 655.50,374.7 655.75,373.9 656.00,373.2 656.25,373.6 656.50,374.2 656.75,374.7 657.00,374.9 657.25,374.9 657.50,374.9 657.75,375.0 658.00,375.0 658.25,374.9 658.50,374.7 658.75,374.6 659.00,374.6 659.25,374.6 659.50,374.7 659.75,374.7 660.00,374.7 660.25,374.7 660.50,374.7 660.75,374.6 661.00,374.4 661.25,374.0 661.50,373.5 661.75,373.4 662.00,374.4 662.25,375.3 662.50,375.6 662.75,375.5 663.00,375.4 663.25,375.3 663.50,375.3 663.75,375.3 664.00,375.3 664.25,375.3 664.50,375.3 664.75,375.6 665.00,376.0 665.25,376.4 665.50,376.5 665.75,376.4 666.00,376.1 666.25,375.9 666.50,375.7 666.75,375.6 667.00,375.4 667.25,375.0 667.50,374.7 667.75,374.3 668.00,373.9 668.25,373.4 668.50,373.6 668.75,374.1 669.00,374.4 669.25,374.5 669.50,374.6 669.75,374.6 670.00,374.7 670.25,375.0 670.50,375.5 670.75,376.0 671.00,376.0 671.25,375.5 671.50,375.0 671.75,375.0 672.00,375.1 672.25,375.2 672.50,375.2 672.75,375.1 673.00,374.9 673.25,374.9 673.50,375.0 673.75,375.2 674.00,375.3 674.25,375.3 674.50,375.4 674.75,375.6 675.00,375.8 675.25,375.9 675.50,375.9 675.75,376.0 676.00,376.1 676.25,376.1 676.50,375.8 676.75,375.0 677.00,373.7 677.25,372.9 677.50,373.3 677.75,373.9 678.00,374.3 678.25,374.6 678.50,374.7 678.75,374.8 679.00,374.9 679.25,375.1 679.50,375.2 679.75,375.3 680.00,375.4 680.25,375.6 680.50,375.7 680.75,375.9 681.00,375.9 681.25,375.6 681.50,375.3 681.75,374.9 682.00,374.6 682.25,374.3 682.50,373.8 682.75,373.7 683.00,374.2 683.25,374.5 683.50,374.8 683.75,374.9 684.00,375.0 684.25,375.1 684.50,375.1 684.75,375.1 685.00,375.2 685.25,375.1 685.50,375.0 685.75,374.9 686.00,374.5 686.25,373.6 686.50,371.5 686.75,368.9 686.90,368.3 687.00,368.6 687.25,371.0 687.50,373.4 687.75,374.6 688.00,375.2 688.25,375.5 688.50,375.6 688.75,375.7 689.00,375.8 689.25,375.9 689.50,376.0 689.75,376.0 690.00,375.9 690.25,375.8 690.50,375.7 690.75,375.6 691.00,375.7 691.25,375.9 691.50,376.2 691.75,376.4 692.00,376.3 692.25,376.0 692.50,375.5 692.75,374.9 693.00,374.4 693.25,374.2 693.50,374.6 693.75,375.2 694.00,375.7 694.25,375.8 694.50,376.0 694.75,376.2 695.00,376.3 695.25,376.4 695.50,376.3 695.75,376.3 696.00,376.2 696.25,376.2 696.50,376.2 696.75,376.1 697.00,376.0 697.25,375.9 697.50,375.9 697.75,375.8 698.00,375.7 698.25,375.5 698.50,375.3 698.75,374.8 699.00,374.4 699.25,374.6 699.50,374.7 699.75,374.9 700.00,375.4 700.25,375.8 700.50,376.2 700.75,376.3 701.00,376.1 701.25,375.8 701.50,375.4 701.75,375.5 702.00,375.9 702.25,376.0 702.50,376.1 702.75,376.1 703.00,376.1 703.25,376.1 703.50,376.2 703.75,376.3 704.00,376.3 704.25,376.1 704.50,375.8 704.75,375.4 705.00,375.1 705.25,375.0 705.50,375.1 705.75,375.2 706.00,374.9 706.25,374.5 706.50,375.0 706.75,375.7 707.00,376.1 707.25,376.3 707.50,376.3 707.75,376.1 708.00,375.8 708.25,375.5 708.50,375.4 708.75,375.3 709.00,375.0 709.25,374.7 709.50,374.2 709.75,373.8 710.00,374.1 710.25,374.5 710.50,374.7 710.75,374.9 711.00,375.1 711.25,375.3 711.50,375.5 711.75,375.6 712.00,375.7 712.25,375.9 712.50,376.0 712.75,376.1 713.00,376.0 713.25,375.7 713.50,375.3 713.75,375.0 714.00,374.9 714.25,374.9 714.50,374.9 714.75,374.9 715.00,374.6 715.25,374.2 715.50,374.4 715.75,375.0 716.00,375.4 716.25,375.6 716.50,375.6 716.75,375.6 717.00,375.6 717.25,375.6 717.50,375.4 717.75,375.2 718.00,375.0 718.25,374.8 718.50,374.8 718.75,374.7 719.00,374.6 719.25,374.5 719.50,374.3 719.75,374.0 720.00,373.4 720.25,373.0 720.50,373.6 720.75,374.3 721.00,375.1 721.25,375.8 721.50,376.3 721.75,376.3 722.00,376.3 722.25,376.2 722.50,376.1 722.75,376.0 723.00,376.0 723.25,375.9 723.50,375.8 723.75,375.7 724.00,375.5 724.25,375.3 724.50,375.1 724.75,375.4 725.00,375.8 725.25,375.8 725.50,375.5 725.75,375.2 726.00,375.1 726.25,375.3 726.50,375.7 726.75,376.1 727.00,376.4 727.25,376.2 727.50,375.7 727.75,374.9 728.00,374.0 728.25,373.0 728.50,371.9 728.75,369.3 729.00,367.5 729.25,369.3 729.50,372.0 729.75,373.5 730.00,374.4 730.25,374.8 730.50,375.1 730.75,375.3 731.00,375.6 731.25,375.7 731.50,375.8 731.75,375.7 732.00,375.5 732.25,375.1 732.50,374.9 732.75,374.9 733.00,375.1 733.25,375.3 733.50,375.5 733.75,375.6 734.00,375.5 734.25,375.2 734.50,375.0 734.75,374.9 735.00,374.8 735.25,374.6 735.50,374.2 735.75,373.9 736.00,374.0 736.25,374.5 736.50,374.9 736.75,375.2 737.00,375.3 737.25,375.3 737.50,375.1 737.75,374.9 738.00,374.8 738.25,374.9 738.50,375.1 738.75,375.5 739.00,375.7 739.25,375.8 739.50,375.8 739.75,375.9 740.00,376.0 740.25,376.0 740.50,375.9 740.75,375.5 741.00,375.1 741.25,374.6 741.50,374.2 741.75,373.7 742.00,373.6 742.25,374.3 742.50,375.0 742.75,375.4 743.00,375.7 743.25,375.9 743.50,376.1 743.75,376.1 744.00,375.9 744.25,375.7 744.50,375.5 744.75,375.4 745.00,375.6 745.25,375.7 745.50,375.8 745.75,375.8 746.00,375.9 746.25,376.1 746.50,376.3 746.75,376.4 747.00,376.4 747.25,376.0 747.50,375.3 747.75,374.6 748.00,373.8 748.25,373.2 748.50,373.5 748.75,374.4 749.00,375.1 749.25,375.4 749.50,375.3 749.75,375.1 750.00,374.8 750.25,374.8 750.50,374.9 750.75,375.2 751.00,375.5 751.25,375.6 751.50,375.6 751.75,375.3 752.00,374.9 752.25,374.6 752.50,374.2 752.75,374.0 753.00,373.7 753.25,374.3 753.50,375.2 753.75,375.7 754.00,375.9 754.25,376.1 754.50,376.2 754.75,376.2 755.00,376.0 755.25,375.8 755.50,375.6 755.75,375.5 756.00,375.4 756.25,375.1 756.50,374.5 756.75,373.8 757.00,373.3 757.25,373.7 757.50,374.3 757.75,374.6 758.00,374.8 758.25,375.0 758.50,375.1 758.75,375.2 759.00,375.2 759.25,375.2 759.50,375.1 759.75,375.0 760.00,375.3 760.25,375.8 760.50,376.0 760.75,376.0 761.00,375.9 761.25,376.0 761.50,376.1 761.75,376.3 762.00,376.6 762.25,376.7 762.50,376.6 762.75,376.4 763.00,376.2 763.25,376.0 763.50,375.8 763.75,375.4 764.00,374.7 764.25,373.8 764.50,372.8 764.75,372.9 765.00,374.0 765.25,375.0 765.50,375.6 765.75,375.8 766.00,375.7 766.25,375.6 766.50,375.4 766.75,375.4 767.00,375.4 767.25,375.5 767.50,375.5 767.75,375.6 768.00,375.7 768.25,376.0 768.50,376.3 768.75,376.5 769.00,376.5 769.25,376.2 769.50,375.9 769.75,375.5 770.00,375.2 770.25,375.3 770.50,375.4 770.75,375.4 771.00,374.8 771.25,372.8 771.50,371.2 771.60,370.9 771.75,371.4 772.00,373.6 772.25,374.9 772.50,375.4 772.75,375.6 773.00,375.5 773.25,375.5 773.50,375.6 773.75,375.9 774.00,376.2 774.25,376.5 774.50,376.5 774.75,376.1 775.00,375.5 775.25,375.0 775.50,374.7 775.75,374.7 776.00,374.9 776.25,374.9 776.50,374.4 776.75,373.7 777.00,373.9 777.25,374.6 777.50,375.0 777.75,375.2 778.00,375.2 778.25,375.1 778.50,374.9 778.75,374.9 779.00,375.0 779.25,375.5 779.50,376.1 779.75,376.6 780.00,376.7 780.25,376.3 780.50,375.7 780.75,375.1 781.00,374.9 781.25,375.1 781.50,375.7 781.75,376.3 782.00,376.7 782.25,376.6 782.50,376.3 782.75,375.8 783.00,375.2 783.25,374.7 783.50,374.1 783.75,373.8 784.00,374.4 784.25,374.9 784.50,375.1 784.75,375.1 785.00,375.0 785.25,374.8 785.50,374.9" fill="none" stroke="#111" stroke-width="1.45" stroke-linejoin="round"/>
</svg>
</body></html>
